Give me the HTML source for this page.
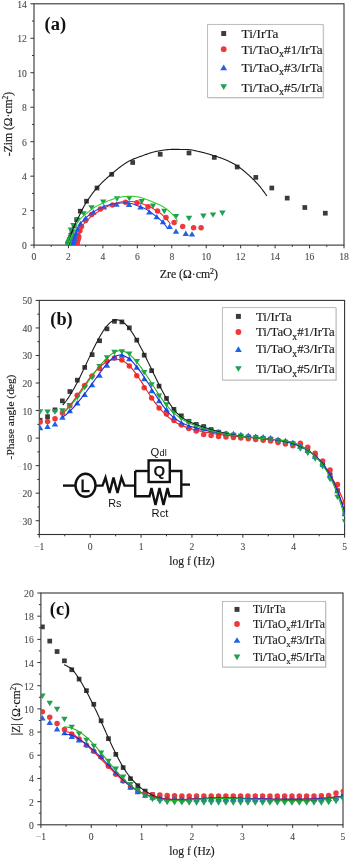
<!DOCTYPE html>
<html><head><meta charset="utf-8"><title>EIS plots</title><style>html,body{margin:0;padding:0;background:#fff;}svg{display:block;}</style></head><body>
<svg width="350" height="859" viewBox="0 0 350 859">
<defs><clipPath id="ca"><rect x="34.0" y="3.8" width="310.0" height="241.29999999999998"/></clipPath><clipPath id="cb"><rect x="39.3" y="300.4" width="305.3" height="234.10000000000002"/></clipPath><clipPath id="cc"><rect x="40.9" y="593.0" width="302.1" height="231.79999999999995"/></clipPath></defs>
<rect width="350" height="859" fill="#ffffff"/>
<rect x="34.00" y="3.80" width="310.00" height="241.30" fill="none" stroke="#333333" stroke-width="1.1"/>
<line x1="34.00" y1="245.10" x2="34.00" y2="248.30" stroke="#333333" stroke-width="1"/>
<line x1="68.44" y1="245.10" x2="68.44" y2="248.30" stroke="#333333" stroke-width="1"/>
<line x1="102.89" y1="245.10" x2="102.89" y2="248.30" stroke="#333333" stroke-width="1"/>
<line x1="137.33" y1="245.10" x2="137.33" y2="248.30" stroke="#333333" stroke-width="1"/>
<line x1="171.78" y1="245.10" x2="171.78" y2="248.30" stroke="#333333" stroke-width="1"/>
<line x1="206.22" y1="245.10" x2="206.22" y2="248.30" stroke="#333333" stroke-width="1"/>
<line x1="240.67" y1="245.10" x2="240.67" y2="248.30" stroke="#333333" stroke-width="1"/>
<line x1="275.11" y1="245.10" x2="275.11" y2="248.30" stroke="#333333" stroke-width="1"/>
<line x1="309.56" y1="245.10" x2="309.56" y2="248.30" stroke="#333333" stroke-width="1"/>
<line x1="344.00" y1="245.10" x2="344.00" y2="248.30" stroke="#333333" stroke-width="1"/>
<line x1="51.22" y1="245.10" x2="51.22" y2="246.90" stroke="#333333" stroke-width="1"/>
<line x1="85.67" y1="245.10" x2="85.67" y2="246.90" stroke="#333333" stroke-width="1"/>
<line x1="120.11" y1="245.10" x2="120.11" y2="246.90" stroke="#333333" stroke-width="1"/>
<line x1="154.56" y1="245.10" x2="154.56" y2="246.90" stroke="#333333" stroke-width="1"/>
<line x1="189.00" y1="245.10" x2="189.00" y2="246.90" stroke="#333333" stroke-width="1"/>
<line x1="223.44" y1="245.10" x2="223.44" y2="246.90" stroke="#333333" stroke-width="1"/>
<line x1="257.89" y1="245.10" x2="257.89" y2="246.90" stroke="#333333" stroke-width="1"/>
<line x1="292.33" y1="245.10" x2="292.33" y2="246.90" stroke="#333333" stroke-width="1"/>
<line x1="326.78" y1="245.10" x2="326.78" y2="246.90" stroke="#333333" stroke-width="1"/>
<line x1="30.40" y1="245.10" x2="34.00" y2="245.10" stroke="#333333" stroke-width="1"/>
<line x1="30.40" y1="210.63" x2="34.00" y2="210.63" stroke="#333333" stroke-width="1"/>
<line x1="30.40" y1="176.16" x2="34.00" y2="176.16" stroke="#333333" stroke-width="1"/>
<line x1="30.40" y1="141.69" x2="34.00" y2="141.69" stroke="#333333" stroke-width="1"/>
<line x1="30.40" y1="107.21" x2="34.00" y2="107.21" stroke="#333333" stroke-width="1"/>
<line x1="30.40" y1="72.74" x2="34.00" y2="72.74" stroke="#333333" stroke-width="1"/>
<line x1="30.40" y1="38.27" x2="34.00" y2="38.27" stroke="#333333" stroke-width="1"/>
<line x1="30.40" y1="3.80" x2="34.00" y2="3.80" stroke="#333333" stroke-width="1"/>
<line x1="32.00" y1="227.86" x2="34.00" y2="227.86" stroke="#333333" stroke-width="1"/>
<line x1="32.00" y1="193.39" x2="34.00" y2="193.39" stroke="#333333" stroke-width="1"/>
<line x1="32.00" y1="158.92" x2="34.00" y2="158.92" stroke="#333333" stroke-width="1"/>
<line x1="32.00" y1="124.45" x2="34.00" y2="124.45" stroke="#333333" stroke-width="1"/>
<line x1="32.00" y1="89.98" x2="34.00" y2="89.98" stroke="#333333" stroke-width="1"/>
<line x1="32.00" y1="55.51" x2="34.00" y2="55.51" stroke="#333333" stroke-width="1"/>
<line x1="32.00" y1="21.04" x2="34.00" y2="21.04" stroke="#333333" stroke-width="1"/>
<text x="34.00" y="260.10" text-anchor="middle" font-family="'Liberation Serif','Times New Roman',serif" font-size="9.6" fill="#4a4a4a" stroke="#4a4a4a" stroke-width="0.1">0</text>
<text x="68.44" y="260.10" text-anchor="middle" font-family="'Liberation Serif','Times New Roman',serif" font-size="9.6" fill="#4a4a4a" stroke="#4a4a4a" stroke-width="0.1">2</text>
<text x="102.89" y="260.10" text-anchor="middle" font-family="'Liberation Serif','Times New Roman',serif" font-size="9.6" fill="#4a4a4a" stroke="#4a4a4a" stroke-width="0.1">4</text>
<text x="137.33" y="260.10" text-anchor="middle" font-family="'Liberation Serif','Times New Roman',serif" font-size="9.6" fill="#4a4a4a" stroke="#4a4a4a" stroke-width="0.1">6</text>
<text x="171.78" y="260.10" text-anchor="middle" font-family="'Liberation Serif','Times New Roman',serif" font-size="9.6" fill="#4a4a4a" stroke="#4a4a4a" stroke-width="0.1">8</text>
<text x="206.22" y="260.10" text-anchor="middle" font-family="'Liberation Serif','Times New Roman',serif" font-size="9.6" fill="#4a4a4a" stroke="#4a4a4a" stroke-width="0.1">10</text>
<text x="240.67" y="260.10" text-anchor="middle" font-family="'Liberation Serif','Times New Roman',serif" font-size="9.6" fill="#4a4a4a" stroke="#4a4a4a" stroke-width="0.1">12</text>
<text x="275.11" y="260.10" text-anchor="middle" font-family="'Liberation Serif','Times New Roman',serif" font-size="9.6" fill="#4a4a4a" stroke="#4a4a4a" stroke-width="0.1">14</text>
<text x="309.56" y="260.10" text-anchor="middle" font-family="'Liberation Serif','Times New Roman',serif" font-size="9.6" fill="#4a4a4a" stroke="#4a4a4a" stroke-width="0.1">16</text>
<text x="344.00" y="260.10" text-anchor="middle" font-family="'Liberation Serif','Times New Roman',serif" font-size="9.6" fill="#4a4a4a" stroke="#4a4a4a" stroke-width="0.1">18</text>
<text x="26.80" y="249.10" text-anchor="end" font-family="'Liberation Serif','Times New Roman',serif" font-size="9.6" fill="#4a4a4a" stroke="#4a4a4a" stroke-width="0.1">0</text>
<text x="26.80" y="214.63" text-anchor="end" font-family="'Liberation Serif','Times New Roman',serif" font-size="9.6" fill="#4a4a4a" stroke="#4a4a4a" stroke-width="0.1">2</text>
<text x="26.80" y="180.16" text-anchor="end" font-family="'Liberation Serif','Times New Roman',serif" font-size="9.6" fill="#4a4a4a" stroke="#4a4a4a" stroke-width="0.1">4</text>
<text x="26.80" y="145.69" text-anchor="end" font-family="'Liberation Serif','Times New Roman',serif" font-size="9.6" fill="#4a4a4a" stroke="#4a4a4a" stroke-width="0.1">6</text>
<text x="26.80" y="111.21" text-anchor="end" font-family="'Liberation Serif','Times New Roman',serif" font-size="9.6" fill="#4a4a4a" stroke="#4a4a4a" stroke-width="0.1">8</text>
<text x="26.80" y="76.74" text-anchor="end" font-family="'Liberation Serif','Times New Roman',serif" font-size="9.6" fill="#4a4a4a" stroke="#4a4a4a" stroke-width="0.1">10</text>
<text x="26.80" y="42.27" text-anchor="end" font-family="'Liberation Serif','Times New Roman',serif" font-size="9.6" fill="#4a4a4a" stroke="#4a4a4a" stroke-width="0.1">12</text>
<text x="26.80" y="7.80" text-anchor="end" font-family="'Liberation Serif','Times New Roman',serif" font-size="9.6" fill="#4a4a4a" stroke="#4a4a4a" stroke-width="0.1">14</text>
<rect x="39.30" y="300.40" width="305.30" height="234.10" fill="none" stroke="#333333" stroke-width="1.1"/>
<line x1="39.30" y1="534.50" x2="39.30" y2="537.70" stroke="#333333" stroke-width="1"/>
<line x1="90.18" y1="534.50" x2="90.18" y2="537.70" stroke="#333333" stroke-width="1"/>
<line x1="141.07" y1="534.50" x2="141.07" y2="537.70" stroke="#333333" stroke-width="1"/>
<line x1="191.95" y1="534.50" x2="191.95" y2="537.70" stroke="#333333" stroke-width="1"/>
<line x1="242.83" y1="534.50" x2="242.83" y2="537.70" stroke="#333333" stroke-width="1"/>
<line x1="293.72" y1="534.50" x2="293.72" y2="537.70" stroke="#333333" stroke-width="1"/>
<line x1="344.60" y1="534.50" x2="344.60" y2="537.70" stroke="#333333" stroke-width="1"/>
<line x1="64.74" y1="534.50" x2="64.74" y2="536.30" stroke="#333333" stroke-width="1"/>
<line x1="115.62" y1="534.50" x2="115.62" y2="536.30" stroke="#333333" stroke-width="1"/>
<line x1="166.51" y1="534.50" x2="166.51" y2="536.30" stroke="#333333" stroke-width="1"/>
<line x1="217.39" y1="534.50" x2="217.39" y2="536.30" stroke="#333333" stroke-width="1"/>
<line x1="268.28" y1="534.50" x2="268.28" y2="536.30" stroke="#333333" stroke-width="1"/>
<line x1="319.16" y1="534.50" x2="319.16" y2="536.30" stroke="#333333" stroke-width="1"/>
<line x1="35.70" y1="520.73" x2="39.30" y2="520.73" stroke="#333333" stroke-width="1"/>
<line x1="35.70" y1="493.19" x2="39.30" y2="493.19" stroke="#333333" stroke-width="1"/>
<line x1="35.70" y1="465.65" x2="39.30" y2="465.65" stroke="#333333" stroke-width="1"/>
<line x1="35.70" y1="438.11" x2="39.30" y2="438.11" stroke="#333333" stroke-width="1"/>
<line x1="35.70" y1="410.56" x2="39.30" y2="410.56" stroke="#333333" stroke-width="1"/>
<line x1="35.70" y1="383.02" x2="39.30" y2="383.02" stroke="#333333" stroke-width="1"/>
<line x1="35.70" y1="355.48" x2="39.30" y2="355.48" stroke="#333333" stroke-width="1"/>
<line x1="35.70" y1="327.94" x2="39.30" y2="327.94" stroke="#333333" stroke-width="1"/>
<line x1="35.70" y1="300.40" x2="39.30" y2="300.40" stroke="#333333" stroke-width="1"/>
<line x1="37.30" y1="534.50" x2="39.30" y2="534.50" stroke="#333333" stroke-width="1"/>
<line x1="37.30" y1="506.96" x2="39.30" y2="506.96" stroke="#333333" stroke-width="1"/>
<line x1="37.30" y1="479.42" x2="39.30" y2="479.42" stroke="#333333" stroke-width="1"/>
<line x1="37.30" y1="451.88" x2="39.30" y2="451.88" stroke="#333333" stroke-width="1"/>
<line x1="37.30" y1="424.34" x2="39.30" y2="424.34" stroke="#333333" stroke-width="1"/>
<line x1="37.30" y1="396.79" x2="39.30" y2="396.79" stroke="#333333" stroke-width="1"/>
<line x1="37.30" y1="369.25" x2="39.30" y2="369.25" stroke="#333333" stroke-width="1"/>
<line x1="37.30" y1="341.71" x2="39.30" y2="341.71" stroke="#333333" stroke-width="1"/>
<line x1="37.30" y1="314.17" x2="39.30" y2="314.17" stroke="#333333" stroke-width="1"/>
<text x="39.30" y="549.50" text-anchor="middle" font-family="'Liberation Serif','Times New Roman',serif" font-size="9.6" fill="#4a4a4a" stroke="#4a4a4a" stroke-width="0.1"><tspan fill="#8a8a8a">−</tspan>1</text>
<text x="90.18" y="549.50" text-anchor="middle" font-family="'Liberation Serif','Times New Roman',serif" font-size="9.6" fill="#4a4a4a" stroke="#4a4a4a" stroke-width="0.1">0</text>
<text x="141.07" y="549.50" text-anchor="middle" font-family="'Liberation Serif','Times New Roman',serif" font-size="9.6" fill="#4a4a4a" stroke="#4a4a4a" stroke-width="0.1">1</text>
<text x="191.95" y="549.50" text-anchor="middle" font-family="'Liberation Serif','Times New Roman',serif" font-size="9.6" fill="#4a4a4a" stroke="#4a4a4a" stroke-width="0.1">2</text>
<text x="242.83" y="549.50" text-anchor="middle" font-family="'Liberation Serif','Times New Roman',serif" font-size="9.6" fill="#4a4a4a" stroke="#4a4a4a" stroke-width="0.1">3</text>
<text x="293.72" y="549.50" text-anchor="middle" font-family="'Liberation Serif','Times New Roman',serif" font-size="9.6" fill="#4a4a4a" stroke="#4a4a4a" stroke-width="0.1">4</text>
<text x="344.60" y="549.50" text-anchor="middle" font-family="'Liberation Serif','Times New Roman',serif" font-size="9.6" fill="#4a4a4a" stroke="#4a4a4a" stroke-width="0.1">5</text>
<text x="32.10" y="524.73" text-anchor="end" font-family="'Liberation Serif','Times New Roman',serif" font-size="9.6" fill="#4a4a4a" stroke="#4a4a4a" stroke-width="0.1"><tspan fill="#d6d6d6" stroke="#d6d6d6">−</tspan>30</text>
<text x="32.10" y="497.19" text-anchor="end" font-family="'Liberation Serif','Times New Roman',serif" font-size="9.6" fill="#4a4a4a" stroke="#4a4a4a" stroke-width="0.1"><tspan fill="#d6d6d6" stroke="#d6d6d6">−</tspan>20</text>
<text x="32.10" y="469.65" text-anchor="end" font-family="'Liberation Serif','Times New Roman',serif" font-size="9.6" fill="#4a4a4a" stroke="#4a4a4a" stroke-width="0.1"><tspan fill="#d6d6d6" stroke="#d6d6d6">−</tspan>10</text>
<text x="32.10" y="442.11" text-anchor="end" font-family="'Liberation Serif','Times New Roman',serif" font-size="9.6" fill="#4a4a4a" stroke="#4a4a4a" stroke-width="0.1">0</text>
<text x="32.10" y="414.56" text-anchor="end" font-family="'Liberation Serif','Times New Roman',serif" font-size="9.6" fill="#4a4a4a" stroke="#4a4a4a" stroke-width="0.1">10</text>
<text x="32.10" y="387.02" text-anchor="end" font-family="'Liberation Serif','Times New Roman',serif" font-size="9.6" fill="#4a4a4a" stroke="#4a4a4a" stroke-width="0.1">20</text>
<text x="32.10" y="359.48" text-anchor="end" font-family="'Liberation Serif','Times New Roman',serif" font-size="9.6" fill="#4a4a4a" stroke="#4a4a4a" stroke-width="0.1">30</text>
<text x="32.10" y="331.94" text-anchor="end" font-family="'Liberation Serif','Times New Roman',serif" font-size="9.6" fill="#4a4a4a" stroke="#4a4a4a" stroke-width="0.1">40</text>
<text x="32.10" y="304.40" text-anchor="end" font-family="'Liberation Serif','Times New Roman',serif" font-size="9.6" fill="#4a4a4a" stroke="#4a4a4a" stroke-width="0.1">50</text>
<rect x="40.90" y="593.00" width="302.10" height="231.80" fill="none" stroke="#333333" stroke-width="1.1"/>
<line x1="40.90" y1="824.80" x2="40.90" y2="828.00" stroke="#333333" stroke-width="1"/>
<line x1="91.25" y1="824.80" x2="91.25" y2="828.00" stroke="#333333" stroke-width="1"/>
<line x1="141.60" y1="824.80" x2="141.60" y2="828.00" stroke="#333333" stroke-width="1"/>
<line x1="191.95" y1="824.80" x2="191.95" y2="828.00" stroke="#333333" stroke-width="1"/>
<line x1="242.30" y1="824.80" x2="242.30" y2="828.00" stroke="#333333" stroke-width="1"/>
<line x1="292.65" y1="824.80" x2="292.65" y2="828.00" stroke="#333333" stroke-width="1"/>
<line x1="343.00" y1="824.80" x2="343.00" y2="828.00" stroke="#333333" stroke-width="1"/>
<line x1="66.08" y1="824.80" x2="66.08" y2="826.60" stroke="#333333" stroke-width="1"/>
<line x1="116.43" y1="824.80" x2="116.43" y2="826.60" stroke="#333333" stroke-width="1"/>
<line x1="166.78" y1="824.80" x2="166.78" y2="826.60" stroke="#333333" stroke-width="1"/>
<line x1="217.13" y1="824.80" x2="217.13" y2="826.60" stroke="#333333" stroke-width="1"/>
<line x1="267.48" y1="824.80" x2="267.48" y2="826.60" stroke="#333333" stroke-width="1"/>
<line x1="317.82" y1="824.80" x2="317.82" y2="826.60" stroke="#333333" stroke-width="1"/>
<line x1="37.30" y1="824.80" x2="40.90" y2="824.80" stroke="#333333" stroke-width="1"/>
<line x1="37.30" y1="801.62" x2="40.90" y2="801.62" stroke="#333333" stroke-width="1"/>
<line x1="37.30" y1="778.44" x2="40.90" y2="778.44" stroke="#333333" stroke-width="1"/>
<line x1="37.30" y1="755.26" x2="40.90" y2="755.26" stroke="#333333" stroke-width="1"/>
<line x1="37.30" y1="732.08" x2="40.90" y2="732.08" stroke="#333333" stroke-width="1"/>
<line x1="37.30" y1="708.90" x2="40.90" y2="708.90" stroke="#333333" stroke-width="1"/>
<line x1="37.30" y1="685.72" x2="40.90" y2="685.72" stroke="#333333" stroke-width="1"/>
<line x1="37.30" y1="662.54" x2="40.90" y2="662.54" stroke="#333333" stroke-width="1"/>
<line x1="37.30" y1="639.36" x2="40.90" y2="639.36" stroke="#333333" stroke-width="1"/>
<line x1="37.30" y1="616.18" x2="40.90" y2="616.18" stroke="#333333" stroke-width="1"/>
<line x1="37.30" y1="593.00" x2="40.90" y2="593.00" stroke="#333333" stroke-width="1"/>
<line x1="38.90" y1="813.21" x2="40.90" y2="813.21" stroke="#333333" stroke-width="1"/>
<line x1="38.90" y1="790.03" x2="40.90" y2="790.03" stroke="#333333" stroke-width="1"/>
<line x1="38.90" y1="766.85" x2="40.90" y2="766.85" stroke="#333333" stroke-width="1"/>
<line x1="38.90" y1="743.67" x2="40.90" y2="743.67" stroke="#333333" stroke-width="1"/>
<line x1="38.90" y1="720.49" x2="40.90" y2="720.49" stroke="#333333" stroke-width="1"/>
<line x1="38.90" y1="697.31" x2="40.90" y2="697.31" stroke="#333333" stroke-width="1"/>
<line x1="38.90" y1="674.13" x2="40.90" y2="674.13" stroke="#333333" stroke-width="1"/>
<line x1="38.90" y1="650.95" x2="40.90" y2="650.95" stroke="#333333" stroke-width="1"/>
<line x1="38.90" y1="627.77" x2="40.90" y2="627.77" stroke="#333333" stroke-width="1"/>
<line x1="38.90" y1="604.59" x2="40.90" y2="604.59" stroke="#333333" stroke-width="1"/>
<text x="40.90" y="839.80" text-anchor="middle" font-family="'Liberation Serif','Times New Roman',serif" font-size="9.6" fill="#4a4a4a" stroke="#4a4a4a" stroke-width="0.1"><tspan fill="#8a8a8a">−</tspan>1</text>
<text x="91.25" y="839.80" text-anchor="middle" font-family="'Liberation Serif','Times New Roman',serif" font-size="9.6" fill="#4a4a4a" stroke="#4a4a4a" stroke-width="0.1">0</text>
<text x="141.60" y="839.80" text-anchor="middle" font-family="'Liberation Serif','Times New Roman',serif" font-size="9.6" fill="#4a4a4a" stroke="#4a4a4a" stroke-width="0.1">1</text>
<text x="191.95" y="839.80" text-anchor="middle" font-family="'Liberation Serif','Times New Roman',serif" font-size="9.6" fill="#4a4a4a" stroke="#4a4a4a" stroke-width="0.1">2</text>
<text x="242.30" y="839.80" text-anchor="middle" font-family="'Liberation Serif','Times New Roman',serif" font-size="9.6" fill="#4a4a4a" stroke="#4a4a4a" stroke-width="0.1">3</text>
<text x="292.65" y="839.80" text-anchor="middle" font-family="'Liberation Serif','Times New Roman',serif" font-size="9.6" fill="#4a4a4a" stroke="#4a4a4a" stroke-width="0.1">4</text>
<text x="343.00" y="839.80" text-anchor="middle" font-family="'Liberation Serif','Times New Roman',serif" font-size="9.6" fill="#4a4a4a" stroke="#4a4a4a" stroke-width="0.1">5</text>
<text x="33.70" y="828.80" text-anchor="end" font-family="'Liberation Serif','Times New Roman',serif" font-size="9.6" fill="#4a4a4a" stroke="#4a4a4a" stroke-width="0.1">0</text>
<text x="33.70" y="805.62" text-anchor="end" font-family="'Liberation Serif','Times New Roman',serif" font-size="9.6" fill="#4a4a4a" stroke="#4a4a4a" stroke-width="0.1">2</text>
<text x="33.70" y="782.44" text-anchor="end" font-family="'Liberation Serif','Times New Roman',serif" font-size="9.6" fill="#4a4a4a" stroke="#4a4a4a" stroke-width="0.1">4</text>
<text x="33.70" y="759.26" text-anchor="end" font-family="'Liberation Serif','Times New Roman',serif" font-size="9.6" fill="#4a4a4a" stroke="#4a4a4a" stroke-width="0.1">6</text>
<text x="33.70" y="736.08" text-anchor="end" font-family="'Liberation Serif','Times New Roman',serif" font-size="9.6" fill="#4a4a4a" stroke="#4a4a4a" stroke-width="0.1">8</text>
<text x="33.70" y="712.90" text-anchor="end" font-family="'Liberation Serif','Times New Roman',serif" font-size="9.6" fill="#4a4a4a" stroke="#4a4a4a" stroke-width="0.1">10</text>
<text x="33.70" y="689.72" text-anchor="end" font-family="'Liberation Serif','Times New Roman',serif" font-size="9.6" fill="#4a4a4a" stroke="#4a4a4a" stroke-width="0.1">12</text>
<text x="33.70" y="666.54" text-anchor="end" font-family="'Liberation Serif','Times New Roman',serif" font-size="9.6" fill="#4a4a4a" stroke="#4a4a4a" stroke-width="0.1">14</text>
<text x="33.70" y="643.36" text-anchor="end" font-family="'Liberation Serif','Times New Roman',serif" font-size="9.6" fill="#4a4a4a" stroke="#4a4a4a" stroke-width="0.1">16</text>
<text x="33.70" y="620.18" text-anchor="end" font-family="'Liberation Serif','Times New Roman',serif" font-size="9.6" fill="#4a4a4a" stroke="#4a4a4a" stroke-width="0.1">18</text>
<text x="33.70" y="597.00" text-anchor="end" font-family="'Liberation Serif','Times New Roman',serif" font-size="9.6" fill="#4a4a4a" stroke="#4a4a4a" stroke-width="0.1">20</text>
<g clip-path="url(#ca)">
<rect x="322.95" y="210.85" width="4.70" height="4.70" fill="#3b3b3b"/>
<rect x="302.45" y="205.15" width="4.70" height="4.70" fill="#3b3b3b"/>
<rect x="284.85" y="195.75" width="4.70" height="4.70" fill="#3b3b3b"/>
<rect x="269.45" y="185.65" width="4.70" height="4.70" fill="#3b3b3b"/>
<rect x="253.45" y="175.05" width="4.70" height="4.70" fill="#3b3b3b"/>
<rect x="234.85" y="164.65" width="4.70" height="4.70" fill="#3b3b3b"/>
<rect x="211.95" y="155.05" width="4.70" height="4.70" fill="#3b3b3b"/>
<rect x="186.65" y="150.65" width="4.70" height="4.70" fill="#3b3b3b"/>
<rect x="157.85" y="151.95" width="4.70" height="4.70" fill="#3b3b3b"/>
<rect x="130.35" y="160.15" width="4.70" height="4.70" fill="#3b3b3b"/>
<rect x="109.35" y="171.95" width="4.70" height="4.70" fill="#3b3b3b"/>
<rect x="94.65" y="185.65" width="4.70" height="4.70" fill="#3b3b3b"/>
<rect x="84.15" y="198.85" width="4.70" height="4.70" fill="#3b3b3b"/>
<rect x="77.95" y="208.85" width="4.70" height="4.70" fill="#3b3b3b"/>
<rect x="74.35" y="217.25" width="4.70" height="4.70" fill="#3b3b3b"/>
<rect x="71.85" y="223.45" width="4.70" height="4.70" fill="#3b3b3b"/>
<rect x="69.64" y="229.36" width="4.70" height="4.70" fill="#3b3b3b"/>
<rect x="68.61" y="232.97" width="4.70" height="4.70" fill="#3b3b3b"/>
<rect x="67.95" y="235.73" width="4.70" height="4.70" fill="#3b3b3b"/>
<rect x="67.57" y="237.34" width="4.70" height="4.70" fill="#3b3b3b"/>
<rect x="67.26" y="238.69" width="4.70" height="4.70" fill="#3b3b3b"/>
<rect x="67.09" y="239.44" width="4.70" height="4.70" fill="#3b3b3b"/>
<rect x="66.98" y="239.96" width="4.70" height="4.70" fill="#3b3b3b"/>
<rect x="66.82" y="240.69" width="4.70" height="4.70" fill="#3b3b3b"/>
<rect x="66.69" y="241.32" width="4.70" height="4.70" fill="#3b3b3b"/>
<rect x="66.59" y="241.76" width="4.70" height="4.70" fill="#3b3b3b"/>
<rect x="66.54" y="242.02" width="4.70" height="4.70" fill="#3b3b3b"/>
<rect x="66.49" y="242.24" width="4.70" height="4.70" fill="#3b3b3b"/>
<rect x="66.45" y="242.44" width="4.70" height="4.70" fill="#3b3b3b"/>
<rect x="66.45" y="242.62" width="4.70" height="4.70" fill="#3b3b3b"/>
<rect x="66.45" y="242.79" width="4.70" height="4.70" fill="#3b3b3b"/>
<rect x="66.45" y="242.98" width="4.70" height="4.70" fill="#3b3b3b"/>
<rect x="66.45" y="243.35" width="4.70" height="4.70" fill="#3b3b3b"/>
<rect x="66.45" y="243.69" width="4.70" height="4.70" fill="#3b3b3b"/>
<rect x="66.45" y="244.10" width="4.70" height="4.70" fill="#3b3b3b"/>
<rect x="66.45" y="244.68" width="4.70" height="4.70" fill="#3b3b3b"/>
<rect x="66.45" y="245.69" width="4.70" height="4.70" fill="#3b3b3b"/>
<rect x="66.45" y="247.08" width="4.70" height="4.70" fill="#3b3b3b"/>
<rect x="66.45" y="248.93" width="4.70" height="4.70" fill="#3b3b3b"/>
<rect x="66.45" y="251.56" width="4.70" height="4.70" fill="#3b3b3b"/>
<rect x="66.45" y="255.80" width="4.70" height="4.70" fill="#3b3b3b"/>
<rect x="66.45" y="262.54" width="4.70" height="4.70" fill="#3b3b3b"/>
<circle cx="201.10" cy="227.70" r="2.75" fill="#ee3a3a"/>
<circle cx="193.60" cy="227.70" r="2.75" fill="#ee3a3a"/>
<circle cx="182.70" cy="226.50" r="2.75" fill="#ee3a3a"/>
<circle cx="174.10" cy="222.50" r="2.75" fill="#ee3a3a"/>
<circle cx="166.00" cy="217.40" r="2.75" fill="#ee3a3a"/>
<circle cx="157.50" cy="211.00" r="2.75" fill="#ee3a3a"/>
<circle cx="148.00" cy="206.70" r="2.75" fill="#ee3a3a"/>
<circle cx="137.00" cy="202.70" r="2.75" fill="#ee3a3a"/>
<circle cx="125.60" cy="202.20" r="2.75" fill="#ee3a3a"/>
<circle cx="112.50" cy="205.00" r="2.75" fill="#ee3a3a"/>
<circle cx="100.40" cy="209.10" r="2.75" fill="#ee3a3a"/>
<circle cx="91.60" cy="214.60" r="2.75" fill="#ee3a3a"/>
<circle cx="85.60" cy="220.60" r="2.75" fill="#ee3a3a"/>
<circle cx="81.50" cy="226.40" r="2.75" fill="#ee3a3a"/>
<circle cx="79.90" cy="230.70" r="2.75" fill="#ee3a3a"/>
<circle cx="77.70" cy="235.40" r="2.75" fill="#ee3a3a"/>
<circle cx="78.84" cy="236.72" r="2.75" fill="#ee3a3a"/>
<circle cx="78.31" cy="238.47" r="2.75" fill="#ee3a3a"/>
<circle cx="77.75" cy="240.31" r="2.75" fill="#ee3a3a"/>
<circle cx="77.39" cy="241.50" r="2.75" fill="#ee3a3a"/>
<circle cx="77.09" cy="242.50" r="2.75" fill="#ee3a3a"/>
<circle cx="76.88" cy="243.19" r="2.75" fill="#ee3a3a"/>
<circle cx="76.60" cy="244.12" r="2.75" fill="#ee3a3a"/>
<circle cx="76.52" cy="244.40" r="2.75" fill="#ee3a3a"/>
<circle cx="76.44" cy="244.68" r="2.75" fill="#ee3a3a"/>
<circle cx="76.40" cy="244.80" r="2.75" fill="#ee3a3a"/>
<circle cx="76.40" cy="244.94" r="2.75" fill="#ee3a3a"/>
<circle cx="76.40" cy="245.07" r="2.75" fill="#ee3a3a"/>
<circle cx="76.40" cy="245.29" r="2.75" fill="#ee3a3a"/>
<circle cx="76.40" cy="245.50" r="2.75" fill="#ee3a3a"/>
<circle cx="76.40" cy="245.69" r="2.75" fill="#ee3a3a"/>
<circle cx="76.40" cy="245.91" r="2.75" fill="#ee3a3a"/>
<circle cx="76.40" cy="246.32" r="2.75" fill="#ee3a3a"/>
<circle cx="76.40" cy="246.71" r="2.75" fill="#ee3a3a"/>
<circle cx="76.40" cy="247.17" r="2.75" fill="#ee3a3a"/>
<circle cx="76.40" cy="246.46" r="2.75" fill="#ee3a3a"/>
<circle cx="76.40" cy="247.61" r="2.75" fill="#ee3a3a"/>
<circle cx="76.40" cy="249.19" r="2.75" fill="#ee3a3a"/>
<circle cx="76.40" cy="251.32" r="2.75" fill="#ee3a3a"/>
<circle cx="76.40" cy="253.87" r="2.75" fill="#ee3a3a"/>
<circle cx="76.40" cy="258.79" r="2.75" fill="#ee3a3a"/>
<circle cx="76.40" cy="264.84" r="2.75" fill="#ee3a3a"/>
<path d="M192.00 231.20L195.20 236.60L188.80 236.60Z" fill="#1f62e8"/>
<path d="M185.80 230.50L189.00 235.90L182.60 235.90Z" fill="#1f62e8"/>
<path d="M176.00 228.40L179.20 233.80L172.80 233.80Z" fill="#1f62e8"/>
<path d="M169.60 223.50L172.80 228.90L166.40 228.90Z" fill="#1f62e8"/>
<path d="M163.00 218.90L166.20 224.30L159.80 224.30Z" fill="#1f62e8"/>
<path d="M156.70 213.90L159.90 219.30L153.50 219.30Z" fill="#1f62e8"/>
<path d="M149.30 209.20L152.50 214.60L146.10 214.60Z" fill="#1f62e8"/>
<path d="M140.50 204.00L143.70 209.40L137.30 209.40Z" fill="#1f62e8"/>
<path d="M129.00 201.60L132.20 207.00L125.80 207.00Z" fill="#1f62e8"/>
<path d="M116.50 201.30L119.70 206.70L113.30 206.70Z" fill="#1f62e8"/>
<path d="M104.00 204.10L107.20 209.50L100.80 209.50Z" fill="#1f62e8"/>
<path d="M93.50 209.30L96.70 214.70L90.30 214.70Z" fill="#1f62e8"/>
<path d="M85.70 215.31L88.90 220.71L82.50 220.71Z" fill="#1f62e8"/>
<path d="M80.50 220.82L83.70 226.22L77.30 226.22Z" fill="#1f62e8"/>
<path d="M77.67 226.13L80.87 231.53L74.47 231.53Z" fill="#1f62e8"/>
<path d="M76.09 230.20L79.29 235.60L72.89 235.60Z" fill="#1f62e8"/>
<path d="M75.10 233.04L78.30 238.44L71.90 238.44Z" fill="#1f62e8"/>
<path d="M74.33 235.30L77.53 240.70L71.13 240.70Z" fill="#1f62e8"/>
<path d="M73.69 237.20L76.89 242.60L70.49 242.60Z" fill="#1f62e8"/>
<path d="M73.21 238.66L76.41 244.06L70.01 244.06Z" fill="#1f62e8"/>
<path d="M72.96 239.42L76.16 244.82L69.76 244.82Z" fill="#1f62e8"/>
<path d="M72.79 239.94L75.99 245.34L69.59 245.34Z" fill="#1f62e8"/>
<path d="M72.79 239.93L75.99 245.33L69.59 245.33Z" fill="#1f62e8"/>
<path d="M72.63 240.42L75.83 245.82L69.43 245.82Z" fill="#1f62e8"/>
<path d="M72.51 240.81L75.71 246.21L69.31 246.21Z" fill="#1f62e8"/>
<path d="M72.40 241.15L75.60 246.55L69.20 246.55Z" fill="#1f62e8"/>
<path d="M72.36 241.28L75.56 246.68L69.16 246.68Z" fill="#1f62e8"/>
<path d="M72.28 241.52L75.48 246.92L69.08 246.92Z" fill="#1f62e8"/>
<path d="M72.22 241.72L75.42 247.12L69.02 247.12Z" fill="#1f62e8"/>
<path d="M72.16 241.90L75.36 247.30L68.96 247.30Z" fill="#1f62e8"/>
<path d="M72.11 242.08L75.31 247.48L68.91 247.48Z" fill="#1f62e8"/>
<path d="M72.10 242.27L75.30 247.67L68.90 247.67Z" fill="#1f62e8"/>
<path d="M72.10 242.64L75.30 248.04L68.90 248.04Z" fill="#1f62e8"/>
<path d="M72.10 242.99L75.30 248.39L68.90 248.39Z" fill="#1f62e8"/>
<path d="M72.10 243.40L75.30 248.80L68.90 248.80Z" fill="#1f62e8"/>
<path d="M72.10 244.36L75.30 249.76L68.90 249.76Z" fill="#1f62e8"/>
<path d="M72.10 245.39L75.30 250.79L68.90 250.79Z" fill="#1f62e8"/>
<path d="M72.10 246.81L75.30 252.21L68.90 252.21Z" fill="#1f62e8"/>
<path d="M72.10 248.72L75.30 254.12L68.90 254.12Z" fill="#1f62e8"/>
<path d="M72.10 251.42L75.30 256.82L68.90 256.82Z" fill="#1f62e8"/>
<path d="M72.10 255.67L75.30 261.07L68.90 261.07Z" fill="#1f62e8"/>
<path d="M72.10 262.17L75.30 267.57L68.90 267.57Z" fill="#1f62e8"/>
<path d="M219.20 210.60L225.60 210.60L222.40 216.00Z" fill="#229e55"/>
<path d="M209.80 212.40L216.20 212.40L213.00 217.80Z" fill="#229e55"/>
<path d="M200.20 213.60L206.60 213.60L203.40 219.00Z" fill="#229e55"/>
<path d="M185.80 215.80L192.20 215.80L189.00 221.20Z" fill="#229e55"/>
<path d="M172.80 213.90L179.20 213.90L176.00 219.30Z" fill="#229e55"/>
<path d="M161.10 208.80L167.50 208.80L164.30 214.20Z" fill="#229e55"/>
<path d="M149.80 203.60L156.20 203.60L153.00 209.00Z" fill="#229e55"/>
<path d="M138.50 199.00L144.90 199.00L141.70 204.40Z" fill="#229e55"/>
<path d="M126.10 195.90L132.50 195.90L129.30 201.30Z" fill="#229e55"/>
<path d="M113.80 196.30L120.20 196.30L117.00 201.70Z" fill="#229e55"/>
<path d="M100.00 199.50L106.40 199.50L103.20 204.90Z" fill="#229e55"/>
<path d="M88.40 205.20L94.80 205.20L91.60 210.60Z" fill="#229e55"/>
<path d="M80.40 211.20L86.80 211.20L83.60 216.60Z" fill="#229e55"/>
<path d="M74.50 217.70L80.90 217.70L77.70 223.10Z" fill="#229e55"/>
<path d="M70.20 222.90L76.60 222.90L73.40 228.30Z" fill="#229e55"/>
<path d="M67.70 227.60L74.10 227.60L70.90 233.00Z" fill="#229e55"/>
<path d="M68.37 233.39L74.77 233.39L71.57 238.79Z" fill="#229e55"/>
<path d="M67.44 235.46L73.84 235.46L70.64 240.86Z" fill="#229e55"/>
<path d="M66.76 237.18L73.16 237.18L69.96 242.58Z" fill="#229e55"/>
<path d="M66.30 238.43L72.70 238.43L69.50 243.83Z" fill="#229e55"/>
<path d="M66.04 239.17L72.44 239.17L69.24 244.57Z" fill="#229e55"/>
<path d="M65.78 239.93L72.18 239.93L68.98 245.33Z" fill="#229e55"/>
<path d="M65.57 240.60L71.97 240.60L68.77 246.00Z" fill="#229e55"/>
<path d="M65.43 241.01L71.83 241.01L68.63 246.41Z" fill="#229e55"/>
<path d="M65.30 241.44L71.70 241.44L68.50 246.84Z" fill="#229e55"/>
<path d="M65.21 241.72L71.61 241.72L68.41 247.12Z" fill="#229e55"/>
<path d="M65.15 241.94L71.55 241.94L68.35 247.34Z" fill="#229e55"/>
<path d="M65.10 242.13L71.50 242.13L68.30 247.53Z" fill="#229e55"/>
<path d="M65.10 242.30L71.50 242.30L68.30 247.70Z" fill="#229e55"/>
<path d="M65.10 242.46L71.50 242.46L68.30 247.86Z" fill="#229e55"/>
<path d="M65.10 242.60L71.50 242.60L68.30 248.00Z" fill="#229e55"/>
<path d="M65.10 242.76L71.50 242.76L68.30 248.16Z" fill="#229e55"/>
<path d="M65.10 243.07L71.50 243.07L68.30 248.47Z" fill="#229e55"/>
<path d="M65.10 243.37L71.50 243.37L68.30 248.77Z" fill="#229e55"/>
<path d="M65.10 243.71L71.50 243.71L68.30 249.11Z" fill="#229e55"/>
<path d="M65.10 244.65L71.50 244.65L68.30 250.05Z" fill="#229e55"/>
<path d="M65.10 245.51L71.50 245.51L68.30 250.91Z" fill="#229e55"/>
<path d="M65.10 246.70L71.50 246.70L68.30 252.10Z" fill="#229e55"/>
<path d="M65.10 248.28L71.50 248.28L68.30 253.68Z" fill="#229e55"/>
<path d="M65.10 250.98L71.50 250.98L68.30 256.38Z" fill="#229e55"/>
<path d="M65.10 255.14L71.50 255.14L68.30 260.54Z" fill="#229e55"/>
<path d="M65.10 261.32L71.50 261.32L68.30 266.72Z" fill="#229e55"/>
<path d="M68.80 244.80L68.93 244.16L69.07 243.52L69.21 242.88L69.35 242.24L69.49 241.60L69.63 240.96L69.78 240.32L69.92 239.68L70.07 239.04L70.22 238.41L70.37 237.77L70.52 237.13L70.67 236.49L70.83 235.85L70.98 235.22L71.14 234.58L71.31 233.95L71.49 233.32L71.67 232.69L71.87 232.07L72.07 231.45L72.28 230.84L72.50 230.22L72.73 229.61L72.97 229.00L73.21 228.39L73.46 227.78L73.71 227.17L73.97 226.57L74.23 225.96L74.50 225.36L74.77 224.76L75.04 224.16L75.31 223.57L75.59 222.97L75.87 222.38L76.15 221.79L76.44 221.21L76.75 220.63L77.06 220.05L77.37 219.48L77.68 218.90L77.99 218.32L78.29 217.74L78.58 217.15L78.88 216.57L79.17 215.98L79.46 215.39L79.74 214.80L80.03 214.21L80.31 213.62L80.60 213.03L80.88 212.44L81.17 211.84L81.45 211.25L81.74 210.66L82.03 210.08L82.32 209.49L82.61 208.91L82.91 208.32L83.21 207.74L83.52 207.16L83.83 206.59L84.14 206.02L84.46 205.45L84.78 204.88L85.12 204.32L85.45 203.76L85.80 203.20L86.14 202.64L86.50 202.09L86.85 201.54L87.21 200.99L87.58 200.45L87.94 199.90L88.31 199.36L88.68 198.82L89.05 198.28L89.42 197.74L89.79 197.20L90.16 196.66L90.54 196.12L90.91 195.58L91.29 195.04L91.67 194.51L92.06 193.97L92.45 193.44L92.84 192.92L93.24 192.39L93.64 191.88L94.04 191.37L94.45 190.86L94.87 190.36L95.29 189.87L95.71 189.37L96.14 188.88L96.57 188.39L97.00 187.91L97.44 187.42L97.88 186.94L98.33 186.46L98.77 185.98L99.22 185.51L99.68 185.03L100.13 184.56L100.59 184.09L101.05 183.62L101.52 183.15L101.99 182.69L102.45 182.22L102.93 181.76L103.40 181.31L103.87 180.85L104.35 180.40L104.83 179.94L105.31 179.49L105.80 179.05L106.28 178.60L106.77 178.16L107.26 177.72L107.75 177.28L108.24 176.84L108.73 176.41L109.22 175.97L109.72 175.54L110.21 175.12L110.71 174.69L111.21 174.27L111.70 173.85L112.20 173.43L112.70 173.01L113.20 172.60L113.71 172.18L114.21 171.76L114.72 171.34L115.22 170.93L115.73 170.51L116.24 170.09L116.75 169.67L117.27 169.25L117.78 168.84L118.30 168.43L118.82 168.02L119.35 167.61L119.87 167.20L120.40 166.80L120.92 166.40L121.46 166.00L121.99 165.61L122.52 165.23L123.06 164.84L123.60 164.47L124.14 164.09L124.69 163.73L125.24 163.37L125.79 163.02L126.34 162.67L126.89 162.33L127.45 162.00L128.01 161.67L128.57 161.36L129.14 161.05L129.71 160.75L130.28 160.46L130.86 160.18L131.45 159.90L132.04 159.63L132.64 159.37L133.24 159.12L133.85 158.87L134.46 158.63L135.07 158.39L135.69 158.15L136.31 157.92L136.93 157.70L137.55 157.47L138.17 157.25L138.79 157.03L139.41 156.81L140.03 156.59L140.64 156.37L141.26 156.15L141.88 155.93L142.49 155.70L143.11 155.48L143.73 155.25L144.35 155.03L144.97 154.81L145.59 154.58L146.21 154.36L146.84 154.14L147.46 153.93L148.08 153.71L148.71 153.50L149.33 153.30L149.96 153.09L150.58 152.90L151.21 152.71L151.84 152.52L152.47 152.34L153.10 152.17L153.73 152.00L154.36 151.84L155.00 151.69L155.63 151.55L156.27 151.41L156.90 151.29L157.54 151.18L158.18 151.06L158.82 150.95L159.46 150.84L160.11 150.72L160.75 150.61L161.40 150.50L162.05 150.39L162.70 150.28L163.35 150.18L164.00 150.08L164.65 149.99L165.31 149.90L165.96 149.81L166.61 149.74L167.27 149.66L167.92 149.60L168.57 149.54L169.23 149.50L169.88 149.46L170.54 149.43L171.19 149.41L171.84 149.40L172.50 149.40L173.15 149.40L173.80 149.40L174.46 149.40L175.11 149.40L175.77 149.41L176.42 149.41L177.08 149.41L177.74 149.42L178.39 149.42L179.05 149.42L179.71 149.43L180.36 149.43L181.02 149.44L181.68 149.44L182.33 149.45L182.99 149.46L183.64 149.46L184.30 149.47L184.95 149.48L185.60 149.49L186.25 149.50L186.90 149.51L187.55 149.53L188.20 149.57L188.85 149.63L189.50 149.70L190.15 149.78L190.80 149.87L191.44 149.97L192.09 150.08L192.74 150.20L193.38 150.33L194.03 150.47L194.68 150.60L195.32 150.75L195.96 150.89L196.61 151.04L197.25 151.18L197.89 151.33L198.53 151.48L199.17 151.62L199.81 151.76L200.45 151.90L201.09 152.04L201.72 152.19L202.36 152.34L202.99 152.49L203.63 152.65L204.26 152.82L204.90 152.99L205.53 153.16L206.16 153.33L206.79 153.51L207.42 153.69L208.05 153.88L208.68 154.06L209.31 154.25L209.94 154.44L210.57 154.63L211.19 154.82L211.82 155.02L212.44 155.21L213.07 155.41L213.69 155.60L214.32 155.80L214.94 156.00L215.57 156.20L216.19 156.40L216.81 156.60L217.44 156.81L218.06 157.02L218.68 157.23L219.30 157.44L219.92 157.66L220.54 157.88L221.15 158.11L221.77 158.33L222.38 158.56L222.99 158.80L223.60 159.03L224.21 159.28L224.81 159.52L225.41 159.77L226.02 160.03L226.62 160.29L227.22 160.55L227.81 160.82L228.41 161.10L229.01 161.38L229.60 161.66L230.19 161.95L230.78 162.24L231.36 162.54L231.95 162.84L232.52 163.15L233.10 163.46L233.67 163.78L234.24 164.10L234.81 164.42L235.37 164.75L235.92 165.09L236.48 165.44L237.03 165.80L237.58 166.16L238.12 166.53L238.66 166.90L239.20 167.28L239.73 167.67L240.26 168.05L240.79 168.44L241.31 168.83L241.83 169.23L242.34 169.63L242.85 170.04L243.36 170.46L243.86 170.88L244.36 171.30L244.86 171.73L245.36 172.16L245.85 172.59L246.34 173.02L246.83 173.46L247.32 173.89L247.81 174.33L248.30 174.77L248.78 175.21L249.27 175.65L249.75 176.09L250.23 176.53L250.71 176.98L251.19 177.43L251.67 177.88L252.14 178.34L252.61 178.79L253.08 179.25L253.54 179.71L254.01 180.17L254.47 180.64L254.92 181.11L255.37 181.58L255.82 182.06L256.27 182.53L256.71 183.02L257.15 183.50L257.59 183.99L258.03 184.48L258.46 184.97L258.89 185.47L259.32 185.97L259.74 186.47L260.16 186.97L260.57 187.47L260.99 187.98L261.39 188.49L261.80 189.01L262.20 189.52L262.60 190.04L263.00 190.56L263.39 191.08L263.78 191.61L264.17 192.13L264.56 192.66L264.94 193.20L265.32 193.73L265.69 194.27L266.07 194.81L266.43 195.35L266.80 195.90" fill="none" stroke="#1a1a1a" stroke-width="1.1" stroke-linejoin="round"/>
<path d="M76.40 244.80L76.49 244.50L76.58 244.21L76.66 243.91L76.75 243.62L76.84 243.32L76.93 243.03L77.02 242.73L77.11 242.44L77.20 242.14L77.28 241.85L77.37 241.55L77.46 241.26L77.55 240.96L77.64 240.67L77.73 240.37L77.82 240.08L77.91 239.78L78.00 239.49L78.09 239.20L78.18 238.90L78.27 238.61L78.36 238.31L78.45 238.02L78.54 237.72L78.63 237.43L78.72 237.13L78.81 236.84L78.90 236.54L78.99 236.25L79.08 235.95L79.17 235.66L79.26 235.36L79.35 235.07L79.44 234.78L79.53 234.48L79.62 234.19L79.71 233.89L79.81 233.60L79.90 233.31L79.99 233.01L80.08 232.71L80.17 232.42L80.26 232.11L80.34 231.81L80.43 231.51L80.51 231.21L80.60 230.90L80.68 230.60L80.76 230.30L80.85 229.99L80.94 229.69L81.03 229.39L81.12 229.09L81.21 228.79L81.30 228.50L81.40 228.21L81.50 227.92L81.60 227.63L81.71 227.35L81.82 227.07L81.93 226.79L82.05 226.52L82.18 226.25L82.30 225.99L82.44 225.73L82.59 225.48L82.75 225.23L82.92 224.98L83.10 224.74L83.29 224.50L83.49 224.26L83.69 224.02L83.89 223.79L84.11 223.56L84.32 223.32L84.54 223.10L84.76 222.87L84.99 222.64L85.21 222.42L85.43 222.19L85.65 221.97L85.87 221.75L86.09 221.52L86.30 221.30L86.51 221.08L86.72 220.85L86.94 220.63L87.15 220.41L87.37 220.19L87.58 219.97L87.80 219.75L88.02 219.53L88.24 219.31L88.46 219.10L88.69 218.88L88.91 218.67L89.14 218.46L89.36 218.25L89.59 218.04L89.82 217.83L90.05 217.63L90.28 217.43L90.51 217.23L90.75 217.03L90.98 216.83L91.22 216.64L91.45 216.45L91.69 216.25L91.93 216.06L92.17 215.87L92.42 215.68L92.66 215.50L92.91 215.31L93.15 215.12L93.40 214.94L93.65 214.75L93.90 214.57L94.15 214.39L94.40 214.21L94.65 214.03L94.90 213.85L95.15 213.67L95.41 213.49L95.66 213.32L95.92 213.14L96.17 212.97L96.43 212.80L96.69 212.63L96.95 212.45L97.21 212.29L97.46 212.12L97.72 211.95L97.98 211.78L98.24 211.62L98.50 211.45L98.76 211.29L99.03 211.13L99.29 210.97L99.55 210.81L99.81 210.65L100.07 210.49L100.34 210.33L100.60 210.18L100.87 210.02L101.13 209.86L101.40 209.71L101.67 209.55L101.93 209.40L102.20 209.25L102.47 209.09L102.74 208.94L103.01 208.79L103.28 208.64L103.56 208.50L103.83 208.35L104.10 208.20L104.37 208.06L104.65 207.92L104.92 207.77L105.20 207.63L105.47 207.49L105.75 207.36L106.03 207.22L106.30 207.09L106.58 206.95L106.86 206.82L107.14 206.69L107.42 206.56L107.69 206.44L107.97 206.31L108.25 206.19L108.54 206.06L108.82 205.94L109.10 205.82L109.38 205.70L109.67 205.57L109.95 205.45L110.24 205.33L110.52 205.21L110.81 205.10L111.10 204.98L111.38 204.86L111.67 204.75L111.96 204.64L112.25 204.53L112.54 204.42L112.83 204.31L113.12 204.20L113.41 204.10L113.70 204.00L114.00 203.90L114.29 203.80L114.58 203.71L114.87 203.62L115.17 203.53L115.46 203.45L115.76 203.37L116.05 203.29L116.35 203.21L116.64 203.13L116.94 203.05L117.24 202.96L117.54 202.88L117.83 202.80L118.13 202.72L118.43 202.63L118.73 202.55L119.04 202.47L119.34 202.39L119.64 202.31L119.94 202.24L120.24 202.16L120.55 202.09L120.85 202.02L121.15 201.96L121.46 201.89L121.76 201.83L122.07 201.78L122.37 201.73L122.68 201.68L122.98 201.64L123.29 201.60L123.59 201.57L123.90 201.54L124.20 201.52L124.51 201.51L124.81 201.50L125.12 201.50L125.42 201.50L125.73 201.50L126.04 201.50L126.34 201.50L126.65 201.50L126.96 201.50L127.27 201.50L127.58 201.50L127.89 201.50L128.20 201.50L128.51 201.50L128.82 201.50L129.13 201.50L129.43 201.50L129.74 201.50L130.05 201.50L130.36 201.50L130.66 201.50L130.97 201.50L131.28 201.50L131.58 201.51L131.89 201.53L132.19 201.56L132.50 201.59L132.81 201.63L133.11 201.67L133.42 201.72L133.72 201.77L134.02 201.82L134.33 201.88L134.63 201.95L134.94 202.01L135.24 202.08L135.54 202.15L135.85 202.22L136.15 202.29L136.45 202.36L136.75 202.43L137.05 202.51L137.35 202.58L137.65 202.64L137.95 202.71L138.25 202.78L138.55 202.85L138.85 202.92L139.15 202.99L139.45 203.06L139.75 203.14L140.05 203.21L140.35 203.29L140.65 203.37L140.95 203.45L141.24 203.54L141.54 203.62L141.84 203.71L142.14 203.79L142.44 203.88L142.73 203.97L143.03 204.07L143.33 204.16L143.62 204.25L143.92 204.35L144.21 204.45L144.50 204.55L144.80 204.65L145.09 204.75L145.38 204.85L145.67 204.96L145.96 205.06L146.25 205.17L146.53 205.28L146.82 205.39L147.10 205.50L147.39 205.61L147.67 205.72L147.95 205.84L148.23 205.96L148.51 206.08L148.79 206.20L149.06 206.33L149.34 206.46L149.61 206.60L149.88 206.74L150.15 206.89L150.43 207.04L150.69 207.19L150.96 207.34L151.23 207.49L151.50 207.65L151.76 207.81L152.03 207.97L152.30 208.13L152.56 208.29L152.82 208.46L153.09 208.62L153.35 208.78L153.62 208.95L153.88 209.11L154.14 209.28L154.41 209.44L154.67 209.60L154.93 209.76L155.20 209.92L155.46 210.08L155.73 210.24L155.99 210.39L156.26 210.55L156.52 210.71L156.79 210.87L157.05 211.03L157.31 211.20L157.58 211.36L157.84 211.52L158.10 211.69L158.36 211.86L158.62 212.03L158.87 212.20L159.12 212.37L159.38 212.55L159.63 212.72L159.87 212.90L160.12 213.09L160.36 213.27L160.60 213.46L160.84 213.65L161.08 213.85L161.31 214.05L161.55 214.24L161.78 214.45L162.02 214.65L162.25 214.85L162.48 215.06L162.71 215.27L162.94 215.48L163.16 215.69L163.39 215.90L163.61 216.12L163.83 216.33L164.05 216.55L164.27 216.77L164.49 216.98L164.71 217.20L164.92 217.42L165.14 217.64L165.35 217.86L165.56 218.08L165.77 218.30L165.98 218.53L166.19 218.75L166.40 218.98L166.60 219.21L166.81 219.44L167.01 219.67L167.22 219.90L167.42 220.13L167.62 220.36L167.82 220.60L168.02 220.83L168.22 221.07L168.42 221.31L168.61 221.54L168.81 221.79L169.00 222.03L169.19 222.27L169.38 222.51L169.57 222.76L169.76 223.00L169.95 223.25L170.13 223.50L170.32 223.75L170.50 224.00" fill="none" stroke="#ff2424" stroke-width="1.1" stroke-linejoin="round"/>
<path d="M72.10 244.80L72.19 244.50L72.29 244.20L72.38 243.90L72.48 243.60L72.58 243.30L72.67 243.00L72.77 242.70L72.87 242.40L72.96 242.10L73.06 241.80L73.16 241.50L73.26 241.21L73.35 240.91L73.45 240.61L73.55 240.31L73.65 240.01L73.75 239.71L73.85 239.41L73.95 239.12L74.05 238.82L74.15 238.52L74.25 238.22L74.35 237.92L74.46 237.63L74.56 237.33L74.66 237.03L74.76 236.73L74.86 236.44L74.96 236.14L75.07 235.84L75.17 235.54L75.27 235.24L75.37 234.94L75.47 234.65L75.58 234.35L75.68 234.05L75.78 233.75L75.89 233.46L75.99 233.16L76.10 232.87L76.21 232.57L76.32 232.27L76.43 231.98L76.54 231.69L76.65 231.39L76.76 231.10L76.88 230.81L76.99 230.52L77.11 230.22L77.23 229.93L77.35 229.64L77.46 229.34L77.58 229.05L77.70 228.75L77.82 228.46L77.95 228.16L78.07 227.87L78.20 227.58L78.32 227.29L78.46 227.00L78.59 226.71L78.73 226.43L78.87 226.15L79.01 225.87L79.15 225.60L79.31 225.33L79.46 225.07L79.62 224.81L79.78 224.55L79.95 224.29L80.13 224.04L80.31 223.78L80.49 223.53L80.68 223.28L80.88 223.04L81.07 222.79L81.27 222.54L81.48 222.30L81.69 222.06L81.90 221.82L82.11 221.58L82.32 221.35L82.54 221.11L82.76 220.88L82.98 220.65L83.21 220.42L83.43 220.19L83.66 219.97L83.89 219.74L84.11 219.52L84.34 219.30L84.57 219.08L84.80 218.86L85.03 218.64L85.25 218.43L85.48 218.22L85.71 218.01L85.94 217.79L86.17 217.58L86.40 217.37L86.63 217.16L86.87 216.95L87.10 216.75L87.34 216.54L87.58 216.33L87.82 216.12L88.06 215.92L88.31 215.71L88.55 215.51L88.80 215.31L89.04 215.11L89.29 214.91L89.54 214.71L89.79 214.51L90.04 214.32L90.29 214.12L90.55 213.93L90.80 213.74L91.06 213.55L91.31 213.36L91.57 213.18L91.83 213.00L92.09 212.81L92.35 212.63L92.61 212.46L92.87 212.28L93.13 212.11L93.40 211.94L93.66 211.77L93.92 211.60L94.19 211.44L94.46 211.28L94.72 211.12L94.99 210.96L95.26 210.81L95.52 210.66L95.80 210.51L96.07 210.35L96.34 210.20L96.61 210.05L96.89 209.90L97.16 209.76L97.44 209.61L97.72 209.46L98.00 209.32L98.28 209.17L98.56 209.03L98.84 208.89L99.13 208.74L99.41 208.60L99.70 208.47L99.98 208.33L100.27 208.19L100.56 208.06L100.85 207.92L101.14 207.79L101.43 207.66L101.72 207.53L102.01 207.40L102.30 207.27L102.59 207.15L102.89 207.03L103.18 206.90L103.48 206.78L103.77 206.67L104.07 206.55L104.36 206.44L104.66 206.32L104.95 206.21L105.25 206.10L105.55 206.00L105.84 205.89L106.14 205.79L106.44 205.69L106.74 205.59L107.03 205.50L107.33 205.40L107.63 205.31L107.93 205.22L108.23 205.13L108.52 205.05L108.82 204.96L109.13 204.87L109.43 204.78L109.73 204.70L110.04 204.61L110.34 204.53L110.65 204.45L110.95 204.36L111.26 204.28L111.57 204.20L111.87 204.13L112.18 204.05L112.49 203.98L112.80 203.91L113.11 203.85L113.42 203.78L113.73 203.72L114.04 203.67L114.35 203.61L114.66 203.56L114.97 203.52L115.28 203.48L115.59 203.44L115.90 203.41L116.21 203.38L116.53 203.35L116.84 203.33L117.15 203.30L117.46 203.27L117.77 203.25L118.09 203.22L118.40 203.20L118.72 203.17L119.03 203.15L119.34 203.12L119.66 203.10L119.97 203.08L120.29 203.06L120.60 203.04L120.92 203.02L121.23 203.01L121.55 202.99L121.86 202.98L122.18 202.96L122.50 202.95L122.81 202.94L123.13 202.93L123.44 202.92L123.76 202.91L124.07 202.91L124.38 202.90L124.70 202.90L125.01 202.90L125.33 202.90L125.64 202.91L125.96 202.92L126.27 202.94L126.59 202.96L126.90 202.98L127.22 203.01L127.53 203.04L127.85 203.07L128.16 203.10L128.48 203.14L128.79 203.18L129.10 203.22L129.42 203.26L129.73 203.31L130.04 203.35L130.35 203.40L130.65 203.45L130.96 203.49L131.27 203.54L131.57 203.60L131.87 203.67L132.17 203.75L132.47 203.83L132.77 203.92L133.07 204.01L133.37 204.11L133.67 204.22L133.96 204.33L134.26 204.44L134.55 204.56L134.85 204.67L135.14 204.79L135.44 204.92L135.73 205.04L136.03 205.16L136.32 205.28L136.62 205.40L136.91 205.52L137.21 205.64L137.50 205.75L137.80 205.86L138.09 205.97L138.39 206.08L138.69 206.18L138.98 206.29L139.28 206.39L139.58 206.49L139.88 206.60L140.17 206.70L140.47 206.81L140.77 206.92L141.07 207.02L141.36 207.13L141.66 207.24L141.95 207.35L142.25 207.47L142.54 207.58L142.83 207.70L143.12 207.82L143.41 207.94L143.69 208.06L143.98 208.19L144.26 208.32L144.55 208.46L144.83 208.59L145.11 208.73L145.39 208.88L145.67 209.03L145.95 209.18L146.22 209.33L146.50 209.48L146.77 209.64L147.05 209.80L147.32 209.96L147.59 210.12L147.86 210.28L148.13 210.45L148.39 210.62L148.66 210.78L148.92 210.95L149.19 211.12L149.45 211.29L149.71 211.47L149.97 211.65L150.22 211.83L150.48 212.01L150.73 212.19L150.99 212.38L151.24 212.57L151.49 212.76L151.74 212.95L151.99 213.14L152.24 213.33L152.49 213.53L152.74 213.72L152.99 213.92L153.23 214.11L153.48 214.31L153.73 214.50L153.98 214.70L154.22 214.89L154.47 215.09L154.72 215.28L154.97 215.48L155.22 215.67L155.47 215.86L155.72 216.05L155.97 216.24L156.22 216.43L156.47 216.62L156.72 216.81L156.98 217.01L157.23 217.20L157.48 217.39L157.73 217.58L157.97 217.78L158.22 217.97L158.47 218.17L158.71 218.37L158.95 218.57L159.19 218.78L159.43 218.98L159.66 219.19L159.89 219.40L160.12 219.61L160.34 219.83L160.57 220.04L160.79 220.26L161.01 220.49L161.23 220.71L161.45 220.94L161.67 221.16L161.88 221.39L162.10 221.63L162.31 221.86L162.52 222.09L162.73 222.33L162.94 222.57L163.15 222.80L163.36 223.04L163.56 223.28L163.77 223.52L163.97 223.76L164.18 224.00L164.38 224.25L164.58 224.49L164.78 224.73L164.98 224.97L165.18 225.22L165.37 225.46L165.57 225.71L165.76 225.95L165.96 226.20L166.15 226.45L166.34 226.70L166.53 226.95L166.72 227.21L166.90 227.46L167.09 227.71L167.27 227.97L167.46 228.23L167.64 228.48L167.82 228.74L168.00 229.00" fill="none" stroke="#2244ee" stroke-width="1.1" stroke-linejoin="round"/>
<path d="M68.30 244.80L68.40 244.46L68.51 244.12L68.61 243.79L68.72 243.45L68.83 243.12L68.94 242.78L69.05 242.45L69.16 242.11L69.27 241.78L69.39 241.45L69.51 241.11L69.63 240.78L69.75 240.45L69.87 240.12L69.99 239.79L70.12 239.47L70.25 239.14L70.38 238.81L70.51 238.49L70.64 238.16L70.77 237.84L70.91 237.52L71.05 237.20L71.20 236.88L71.35 236.56L71.50 236.24L71.65 235.92L71.80 235.61L71.96 235.29L72.11 234.97L72.27 234.66L72.43 234.34L72.59 234.03L72.75 233.71L72.90 233.40L73.06 233.08L73.22 232.77L73.38 232.45L73.53 232.13L73.68 231.82L73.84 231.50L73.99 231.18L74.14 230.86L74.28 230.54L74.42 230.22L74.56 229.89L74.70 229.56L74.83 229.23L74.96 228.90L75.09 228.57L75.22 228.23L75.35 227.89L75.47 227.55L75.60 227.22L75.72 226.88L75.85 226.54L75.97 226.20L76.10 225.87L76.23 225.54L76.36 225.20L76.49 224.87L76.62 224.55L76.76 224.22L76.90 223.90L77.04 223.59L77.19 223.28L77.34 222.97L77.50 222.67L77.66 222.37L77.83 222.08L78.00 221.80L78.18 221.52L78.37 221.24L78.56 220.97L78.77 220.70L78.98 220.43L79.19 220.16L79.41 219.90L79.64 219.64L79.87 219.38L80.11 219.12L80.35 218.87L80.60 218.62L80.85 218.37L81.11 218.12L81.37 217.87L81.63 217.63L81.90 217.39L82.17 217.15L82.44 216.91L82.71 216.67L82.98 216.43L83.26 216.20L83.54 215.96L83.81 215.73L84.09 215.50L84.37 215.26L84.65 215.03L84.92 214.80L85.20 214.57L85.48 214.34L85.75 214.12L86.02 213.89L86.29 213.66L86.56 213.43L86.83 213.21L87.09 212.98L87.36 212.75L87.63 212.52L87.90 212.30L88.17 212.07L88.44 211.84L88.72 211.62L88.99 211.39L89.26 211.17L89.54 210.95L89.82 210.72L90.10 210.50L90.37 210.28L90.65 210.06L90.93 209.85L91.22 209.63L91.50 209.42L91.78 209.21L92.07 209.00L92.36 208.80L92.64 208.59L92.93 208.39L93.22 208.19L93.51 208.00L93.81 207.81L94.10 207.62L94.39 207.43L94.69 207.25L94.99 207.07L95.28 206.89L95.58 206.72L95.89 206.55L96.19 206.37L96.49 206.20L96.80 206.04L97.11 205.87L97.42 205.71L97.73 205.54L98.04 205.38L98.35 205.22L98.66 205.06L98.98 204.90L99.30 204.75L99.61 204.59L99.93 204.44L100.25 204.28L100.57 204.13L100.89 203.98L101.21 203.84L101.53 203.69L101.86 203.54L102.18 203.40L102.51 203.25L102.83 203.11L103.16 202.97L103.48 202.83L103.81 202.69L104.13 202.55L104.46 202.42L104.79 202.28L105.12 202.15L105.44 202.01L105.77 201.88L106.10 201.75L106.43 201.62L106.75 201.49L107.08 201.36L107.41 201.23L107.74 201.10L108.06 200.98L108.39 200.85L108.72 200.72L109.05 200.60L109.37 200.47L109.70 200.35L110.03 200.22L110.36 200.10L110.70 199.98L111.03 199.86L111.36 199.74L111.69 199.62L112.03 199.50L112.36 199.38L112.69 199.27L113.03 199.16L113.36 199.04L113.70 198.93L114.04 198.83L114.37 198.72L114.71 198.62L115.05 198.52L115.38 198.42L115.72 198.33L116.06 198.24L116.40 198.15L116.74 198.06L117.08 197.98L117.42 197.90L117.76 197.82L118.10 197.74L118.45 197.65L118.79 197.57L119.13 197.49L119.48 197.42L119.82 197.34L120.17 197.26L120.51 197.19L120.86 197.12L121.21 197.05L121.55 196.98L121.90 196.91L122.25 196.85L122.60 196.79L122.95 196.74L123.29 196.69L123.64 196.64L123.99 196.60L124.34 196.56L124.69 196.53L125.04 196.50L125.39 196.47L125.74 196.44L126.09 196.42L126.44 196.39L126.79 196.37L127.14 196.34L127.49 196.32L127.84 196.30L128.20 196.28L128.55 196.26L128.90 196.25L129.25 196.23L129.61 196.22L129.96 196.21L130.31 196.21L130.66 196.20L131.01 196.20L131.36 196.20L131.72 196.21L132.07 196.22L132.42 196.24L132.77 196.26L133.12 196.29L133.48 196.32L133.83 196.35L134.18 196.39L134.53 196.43L134.88 196.47L135.23 196.52L135.58 196.56L135.93 196.61L136.28 196.66L136.63 196.71L136.98 196.76L137.32 196.81L137.67 196.87L138.01 196.92L138.36 196.97L138.70 197.04L139.04 197.10L139.38 197.18L139.73 197.26L140.07 197.34L140.41 197.43L140.75 197.52L141.09 197.62L141.43 197.72L141.76 197.82L142.10 197.93L142.44 198.04L142.78 198.15L143.11 198.26L143.45 198.37L143.78 198.49L144.12 198.60L144.45 198.72L144.79 198.84L145.12 198.96L145.45 199.07L145.79 199.19L146.12 199.30L146.45 199.42L146.78 199.53L147.11 199.65L147.44 199.77L147.77 199.89L148.10 200.02L148.43 200.14L148.75 200.27L149.08 200.40L149.41 200.54L149.73 200.67L150.06 200.80L150.38 200.94L150.71 201.08L151.03 201.21L151.36 201.35L151.68 201.49L152.01 201.63L152.33 201.77L152.65 201.91L152.98 202.04L153.30 202.18L153.63 202.32L153.95 202.46L154.28 202.60L154.60 202.73L154.93 202.87L155.25 203.00L155.58 203.14L155.90 203.27L156.23 203.40L156.56 203.53L156.89 203.66L157.22 203.79L157.55 203.92L157.87 204.05L158.20 204.19L158.52 204.32L158.84 204.46L159.16 204.61L159.48 204.75L159.80 204.90L160.11 205.06L160.42 205.22L160.74 205.38L161.05 205.54L161.35 205.71L161.66 205.89L161.97 206.06L162.27 206.24L162.57 206.42L162.88 206.61L163.18 206.80L163.47 206.99L163.77 207.18L164.07 207.37L164.36 207.57L164.65 207.76L164.94 207.96L165.23 208.16L165.51 208.36L165.80 208.57L166.08 208.77L166.36 208.98L166.64 209.20L166.92 209.41L167.20 209.63L167.48 209.85L167.75 210.07L168.03 210.30L168.30 210.52L168.57 210.75L168.84 210.98L169.10 211.21L169.37 211.44L169.63 211.67L169.89 211.91L170.16 212.14L170.42 212.38L170.68 212.61L170.94 212.85L171.20 213.09L171.46 213.33L171.72 213.57L171.98 213.82L172.23 214.07L172.48 214.32L172.73 214.57L172.97 214.82L173.21 215.08L173.45 215.34L173.67 215.60L173.90 215.87L174.11 216.14L174.33 216.42L174.54 216.69L174.74 216.97L174.95 217.25L175.15 217.54L175.35 217.83L175.55 218.12L175.74 218.41L175.94 218.71L176.12 219.01L176.31 219.31L176.49 219.61L176.67 219.92L176.84 220.23L177.01 220.54L177.18 220.86L177.34 221.18L177.50 221.50" fill="none" stroke="#33cc33" stroke-width="1.1" stroke-linejoin="round"/>
</g>
<g clip-path="url(#cb)">
<rect x="37.75" y="417.90" width="4.70" height="4.70" fill="#3b3b3b"/>
<rect x="45.19" y="414.32" width="4.70" height="4.70" fill="#3b3b3b"/>
<rect x="52.62" y="407.50" width="4.70" height="4.70" fill="#3b3b3b"/>
<rect x="60.05" y="398.52" width="4.70" height="4.70" fill="#3b3b3b"/>
<rect x="67.49" y="389.17" width="4.70" height="4.70" fill="#3b3b3b"/>
<rect x="74.93" y="377.79" width="4.70" height="4.70" fill="#3b3b3b"/>
<rect x="82.36" y="365.05" width="4.70" height="4.70" fill="#3b3b3b"/>
<rect x="89.80" y="352.30" width="4.70" height="4.70" fill="#3b3b3b"/>
<rect x="97.23" y="338.38" width="4.70" height="4.70" fill="#3b3b3b"/>
<rect x="104.66" y="326.52" width="4.70" height="4.70" fill="#3b3b3b"/>
<rect x="112.10" y="318.96" width="4.70" height="4.70" fill="#3b3b3b"/>
<rect x="119.53" y="319.55" width="4.70" height="4.70" fill="#3b3b3b"/>
<rect x="126.97" y="325.47" width="4.70" height="4.70" fill="#3b3b3b"/>
<rect x="134.41" y="337.80" width="4.70" height="4.70" fill="#3b3b3b"/>
<rect x="141.84" y="352.82" width="4.70" height="4.70" fill="#3b3b3b"/>
<rect x="149.28" y="368.30" width="4.70" height="4.70" fill="#3b3b3b"/>
<rect x="156.71" y="383.76" width="4.70" height="4.70" fill="#3b3b3b"/>
<rect x="164.15" y="396.09" width="4.70" height="4.70" fill="#3b3b3b"/>
<rect x="171.58" y="406.97" width="4.70" height="4.70" fill="#3b3b3b"/>
<rect x="179.01" y="413.46" width="4.70" height="4.70" fill="#3b3b3b"/>
<rect x="186.45" y="418.94" width="4.70" height="4.70" fill="#3b3b3b"/>
<rect x="193.88" y="422.03" width="4.70" height="4.70" fill="#3b3b3b"/>
<rect x="201.32" y="424.17" width="4.70" height="4.70" fill="#3b3b3b"/>
<rect x="208.75" y="427.19" width="4.70" height="4.70" fill="#3b3b3b"/>
<rect x="216.19" y="429.81" width="4.70" height="4.70" fill="#3b3b3b"/>
<rect x="223.62" y="431.65" width="4.70" height="4.70" fill="#3b3b3b"/>
<rect x="231.06" y="432.70" width="4.70" height="4.70" fill="#3b3b3b"/>
<rect x="238.49" y="433.63" width="4.70" height="4.70" fill="#3b3b3b"/>
<rect x="245.93" y="434.47" width="4.70" height="4.70" fill="#3b3b3b"/>
<rect x="253.36" y="435.23" width="4.70" height="4.70" fill="#3b3b3b"/>
<rect x="260.80" y="435.94" width="4.70" height="4.70" fill="#3b3b3b"/>
<rect x="268.23" y="436.73" width="4.70" height="4.70" fill="#3b3b3b"/>
<rect x="275.67" y="438.23" width="4.70" height="4.70" fill="#3b3b3b"/>
<rect x="283.10" y="439.69" width="4.70" height="4.70" fill="#3b3b3b"/>
<rect x="290.54" y="441.37" width="4.70" height="4.70" fill="#3b3b3b"/>
<rect x="297.97" y="443.78" width="4.70" height="4.70" fill="#3b3b3b"/>
<rect x="305.41" y="447.99" width="4.70" height="4.70" fill="#3b3b3b"/>
<rect x="312.84" y="453.83" width="4.70" height="4.70" fill="#3b3b3b"/>
<rect x="320.28" y="461.60" width="4.70" height="4.70" fill="#3b3b3b"/>
<rect x="327.71" y="472.36" width="4.70" height="4.70" fill="#3b3b3b"/>
<rect x="335.15" y="488.31" width="4.70" height="4.70" fill="#3b3b3b"/>
<rect x="342.58" y="511.22" width="4.70" height="4.70" fill="#3b3b3b"/>
<circle cx="40.10" cy="421.89" r="2.75" fill="#ee3a3a"/>
<circle cx="47.54" cy="421.38" r="2.75" fill="#ee3a3a"/>
<circle cx="54.97" cy="418.86" r="2.75" fill="#ee3a3a"/>
<circle cx="62.41" cy="413.00" r="2.75" fill="#ee3a3a"/>
<circle cx="69.84" cy="405.72" r="2.75" fill="#ee3a3a"/>
<circle cx="77.28" cy="395.13" r="2.75" fill="#ee3a3a"/>
<circle cx="84.71" cy="385.60" r="2.75" fill="#ee3a3a"/>
<circle cx="92.14" cy="375.98" r="2.75" fill="#ee3a3a"/>
<circle cx="99.58" cy="368.41" r="2.75" fill="#ee3a3a"/>
<circle cx="107.01" cy="361.24" r="2.75" fill="#ee3a3a"/>
<circle cx="114.45" cy="358.00" r="2.75" fill="#ee3a3a"/>
<circle cx="121.88" cy="359.95" r="2.75" fill="#ee3a3a"/>
<circle cx="129.32" cy="365.92" r="2.75" fill="#ee3a3a"/>
<circle cx="136.75" cy="375.64" r="2.75" fill="#ee3a3a"/>
<circle cx="144.19" cy="387.68" r="2.75" fill="#ee3a3a"/>
<circle cx="151.62" cy="398.03" r="2.75" fill="#ee3a3a"/>
<circle cx="159.06" cy="408.06" r="2.75" fill="#ee3a3a"/>
<circle cx="166.50" cy="413.91" r="2.75" fill="#ee3a3a"/>
<circle cx="173.93" cy="420.55" r="2.75" fill="#ee3a3a"/>
<circle cx="181.36" cy="424.88" r="2.75" fill="#ee3a3a"/>
<circle cx="188.80" cy="428.52" r="2.75" fill="#ee3a3a"/>
<circle cx="196.23" cy="431.06" r="2.75" fill="#ee3a3a"/>
<circle cx="203.67" cy="434.51" r="2.75" fill="#ee3a3a"/>
<circle cx="211.10" cy="435.51" r="2.75" fill="#ee3a3a"/>
<circle cx="218.54" cy="436.55" r="2.75" fill="#ee3a3a"/>
<circle cx="225.97" cy="437.00" r="2.75" fill="#ee3a3a"/>
<circle cx="233.41" cy="437.53" r="2.75" fill="#ee3a3a"/>
<circle cx="240.84" cy="437.99" r="2.75" fill="#ee3a3a"/>
<circle cx="248.28" cy="438.81" r="2.75" fill="#ee3a3a"/>
<circle cx="255.71" cy="439.58" r="2.75" fill="#ee3a3a"/>
<circle cx="263.15" cy="440.29" r="2.75" fill="#ee3a3a"/>
<circle cx="270.58" cy="441.08" r="2.75" fill="#ee3a3a"/>
<circle cx="278.02" cy="442.58" r="2.75" fill="#ee3a3a"/>
<circle cx="285.45" cy="444.04" r="2.75" fill="#ee3a3a"/>
<circle cx="292.89" cy="445.72" r="2.75" fill="#ee3a3a"/>
<circle cx="300.32" cy="443.13" r="2.75" fill="#ee3a3a"/>
<circle cx="307.76" cy="447.34" r="2.75" fill="#ee3a3a"/>
<circle cx="315.19" cy="453.18" r="2.75" fill="#ee3a3a"/>
<circle cx="322.63" cy="460.98" r="2.75" fill="#ee3a3a"/>
<circle cx="330.06" cy="470.10" r="2.75" fill="#ee3a3a"/>
<circle cx="337.50" cy="484.57" r="2.75" fill="#ee3a3a"/>
<circle cx="344.94" cy="502.39" r="2.75" fill="#ee3a3a"/>
<path d="M40.10 424.78L43.30 430.18L36.90 430.18Z" fill="#1f62e8"/>
<path d="M47.54 423.53L50.74 428.93L44.34 428.93Z" fill="#1f62e8"/>
<path d="M54.97 421.06L58.17 426.46L51.77 426.46Z" fill="#1f62e8"/>
<path d="M62.41 414.30L65.61 419.70L59.20 419.70Z" fill="#1f62e8"/>
<path d="M69.84 407.95L73.04 413.35L66.64 413.35Z" fill="#1f62e8"/>
<path d="M77.28 400.04L80.48 405.44L74.08 405.44Z" fill="#1f62e8"/>
<path d="M84.71 391.65L87.91 397.05L81.51 397.05Z" fill="#1f62e8"/>
<path d="M92.14 381.89L95.34 387.29L88.94 387.29Z" fill="#1f62e8"/>
<path d="M99.58 372.45L102.78 377.85L96.38 377.85Z" fill="#1f62e8"/>
<path d="M107.01 362.25L110.21 367.65L103.81 367.65Z" fill="#1f62e8"/>
<path d="M114.45 354.78L117.65 360.18L111.25 360.18Z" fill="#1f62e8"/>
<path d="M121.88 352.30L125.08 357.70L118.68 357.70Z" fill="#1f62e8"/>
<path d="M129.32 355.75L132.52 361.15L126.12 361.15Z" fill="#1f62e8"/>
<path d="M136.75 364.37L139.95 369.77L133.56 369.77Z" fill="#1f62e8"/>
<path d="M144.19 375.97L147.39 381.37L140.99 381.37Z" fill="#1f62e8"/>
<path d="M151.62 387.94L154.82 393.34L148.43 393.34Z" fill="#1f62e8"/>
<path d="M159.06 397.97L162.26 403.37L155.86 403.37Z" fill="#1f62e8"/>
<path d="M166.50 406.59L169.69 411.99L163.30 411.99Z" fill="#1f62e8"/>
<path d="M173.93 414.24L177.13 419.64L170.73 419.64Z" fill="#1f62e8"/>
<path d="M181.36 420.17L184.56 425.57L178.16 425.57Z" fill="#1f62e8"/>
<path d="M188.80 423.23L192.00 428.63L185.60 428.63Z" fill="#1f62e8"/>
<path d="M196.23 425.35L199.43 430.75L193.03 430.75Z" fill="#1f62e8"/>
<path d="M203.67 425.32L206.87 430.72L200.47 430.72Z" fill="#1f62e8"/>
<path d="M211.10 427.33L214.30 432.73L207.91 432.73Z" fill="#1f62e8"/>
<path d="M218.54 428.91L221.74 434.31L215.34 434.31Z" fill="#1f62e8"/>
<path d="M225.97 430.30L229.17 435.70L222.78 435.70Z" fill="#1f62e8"/>
<path d="M233.41 430.84L236.61 436.24L230.21 436.24Z" fill="#1f62e8"/>
<path d="M240.84 431.78L244.04 437.18L237.64 437.18Z" fill="#1f62e8"/>
<path d="M248.28 432.62L251.48 438.02L245.08 438.02Z" fill="#1f62e8"/>
<path d="M255.71 433.38L258.91 438.78L252.51 438.78Z" fill="#1f62e8"/>
<path d="M263.15 434.09L266.35 439.49L259.95 439.49Z" fill="#1f62e8"/>
<path d="M270.58 434.88L273.78 440.28L267.38 440.28Z" fill="#1f62e8"/>
<path d="M278.02 436.38L281.22 441.78L274.82 441.78Z" fill="#1f62e8"/>
<path d="M285.45 437.84L288.65 443.24L282.25 443.24Z" fill="#1f62e8"/>
<path d="M292.89 439.52L296.09 444.92L289.69 444.92Z" fill="#1f62e8"/>
<path d="M300.32 443.43L303.52 448.83L297.12 448.83Z" fill="#1f62e8"/>
<path d="M307.76 447.64L310.96 453.04L304.56 453.04Z" fill="#1f62e8"/>
<path d="M315.19 453.48L318.39 458.88L312.00 458.88Z" fill="#1f62e8"/>
<path d="M322.63 461.25L325.83 466.65L319.43 466.65Z" fill="#1f62e8"/>
<path d="M330.06 472.01L333.26 477.41L326.87 477.41Z" fill="#1f62e8"/>
<path d="M337.50 487.96L340.70 493.36L334.30 493.36Z" fill="#1f62e8"/>
<path d="M344.94 510.87L348.13 516.27L341.74 516.27Z" fill="#1f62e8"/>
<path d="M36.90 409.22L43.30 409.22L40.10 414.62Z" fill="#229e55"/>
<path d="M44.34 409.60L50.74 409.60L47.54 415.00Z" fill="#229e55"/>
<path d="M51.77 409.32L58.17 409.32L54.97 414.72Z" fill="#229e55"/>
<path d="M59.20 408.30L65.61 408.30L62.41 413.70Z" fill="#229e55"/>
<path d="M66.64 403.09L73.04 403.09L69.84 408.49Z" fill="#229e55"/>
<path d="M74.08 394.97L80.48 394.97L77.28 400.37Z" fill="#229e55"/>
<path d="M81.51 384.89L87.91 384.89L84.71 390.29Z" fill="#229e55"/>
<path d="M88.94 375.09L95.34 375.09L92.14 380.49Z" fill="#229e55"/>
<path d="M96.38 363.93L102.78 363.93L99.58 369.33Z" fill="#229e55"/>
<path d="M103.81 355.29L110.21 355.29L107.01 360.69Z" fill="#229e55"/>
<path d="M111.25 349.79L117.65 349.79L114.45 355.19Z" fill="#229e55"/>
<path d="M118.68 349.33L125.08 349.33L121.88 354.73Z" fill="#229e55"/>
<path d="M126.12 351.44L132.52 351.44L129.32 356.84Z" fill="#229e55"/>
<path d="M133.56 359.00L139.95 359.00L136.75 364.40Z" fill="#229e55"/>
<path d="M140.99 369.97L147.39 369.97L144.19 375.37Z" fill="#229e55"/>
<path d="M148.43 382.34L154.82 382.34L151.62 387.74Z" fill="#229e55"/>
<path d="M155.86 393.38L162.26 393.38L159.06 398.78Z" fill="#229e55"/>
<path d="M163.30 402.18L169.69 402.18L166.50 407.58Z" fill="#229e55"/>
<path d="M170.73 410.24L177.13 410.24L173.93 415.64Z" fill="#229e55"/>
<path d="M178.16 416.16L184.56 416.16L181.36 421.56Z" fill="#229e55"/>
<path d="M185.60 419.70L192.00 419.70L188.80 425.10Z" fill="#229e55"/>
<path d="M193.03 423.39L199.43 423.39L196.23 428.79Z" fill="#229e55"/>
<path d="M200.47 426.62L206.87 426.62L203.67 432.02Z" fill="#229e55"/>
<path d="M207.91 428.63L214.30 428.63L211.10 434.03Z" fill="#229e55"/>
<path d="M215.34 430.72L221.74 430.72L218.54 436.12Z" fill="#229e55"/>
<path d="M222.78 432.10L229.17 432.10L225.97 437.50Z" fill="#229e55"/>
<path d="M230.21 433.15L236.61 433.15L233.41 438.55Z" fill="#229e55"/>
<path d="M237.64 434.08L244.04 434.08L240.84 439.48Z" fill="#229e55"/>
<path d="M245.08 434.92L251.48 434.92L248.28 440.32Z" fill="#229e55"/>
<path d="M252.51 435.68L258.91 435.68L255.71 441.08Z" fill="#229e55"/>
<path d="M259.95 436.39L266.35 436.39L263.15 441.79Z" fill="#229e55"/>
<path d="M267.38 437.18L273.78 437.18L270.58 442.58Z" fill="#229e55"/>
<path d="M274.82 438.68L281.22 438.68L278.02 444.08Z" fill="#229e55"/>
<path d="M282.25 440.14L288.65 440.14L285.45 445.54Z" fill="#229e55"/>
<path d="M289.69 441.82L296.09 441.82L292.89 447.22Z" fill="#229e55"/>
<path d="M297.12 446.43L303.52 446.43L300.32 451.83Z" fill="#229e55"/>
<path d="M304.56 450.64L310.96 450.64L307.76 456.04Z" fill="#229e55"/>
<path d="M312.00 456.47L318.39 456.47L315.19 461.87Z" fill="#229e55"/>
<path d="M319.43 464.22L325.83 464.22L322.63 469.62Z" fill="#229e55"/>
<path d="M326.87 476.93L333.26 476.93L330.06 482.33Z" fill="#229e55"/>
<path d="M334.30 494.68L340.70 494.68L337.50 500.08Z" fill="#229e55"/>
<path d="M341.74 519.29L348.13 519.29L344.94 524.69Z" fill="#229e55"/>
<path d="M62.71 405.00L63.65 404.00L64.59 402.91L65.53 401.73L66.48 400.47L67.42 399.14L68.36 397.72L69.31 396.24L70.25 394.70L71.19 393.16L72.13 391.63L73.08 390.04L74.02 388.40L74.96 386.71L75.91 384.98L76.85 383.20L77.79 381.38L78.73 379.53L79.68 377.65L80.62 375.74L81.56 373.81L82.50 371.85L83.45 369.88L84.39 367.89L85.33 365.89L86.28 363.89L87.22 361.88L88.16 359.88L89.10 357.87L90.05 355.88L90.99 353.89L91.93 351.93L92.88 349.98L93.82 348.05L94.76 346.15L95.70 344.28L96.65 342.44L97.59 340.65L98.53 338.90L99.48 337.20L100.42 335.55L101.36 333.96L102.30 332.43L103.25 330.97L104.19 329.57L105.13 328.26L106.07 327.02L107.02 325.86L107.96 324.79L108.90 323.82L109.85 322.94L110.79 322.16L111.73 321.48L112.67 320.92L113.62 320.47L114.56 320.13L115.50 319.92L116.45 319.83L117.39 319.85L118.33 319.98L119.27 320.21L120.22 320.56L121.16 321.00L122.10 321.54L123.04 322.17L123.99 322.90L124.93 323.71L125.87 324.61L126.82 325.59L127.76 326.65L128.70 327.78L129.64 328.98L130.59 330.24L131.53 331.58L132.47 332.97L133.42 334.42L134.36 335.92L135.30 337.48L136.24 339.08L137.19 340.73L138.13 342.41L139.07 344.14L140.01 345.90L140.96 347.69L141.90 349.52L142.84 351.36L143.79 353.24L144.73 355.13L145.67 357.05L146.61 358.98L147.56 360.92L148.50 362.87L149.44 364.84L150.39 366.80L151.33 368.77L152.27 370.74L153.21 372.70L154.16 374.66L155.10 376.61L156.04 378.55L156.99 380.48L157.93 382.39L158.87 384.27L159.81 386.14L160.76 387.98L161.70 389.79L162.64 391.58L163.58 393.32L164.53 395.04L165.47 396.71L166.41 398.34L167.36 399.93L168.30 401.47L169.24 402.96L170.18 404.40L171.13 405.78L172.07 407.11L173.01 408.37L173.96 409.57L174.90 410.71L175.84 411.78L176.78 412.79L177.73 413.74L178.67 414.64L179.61 415.48L180.55 416.27L181.50 417.02L182.44 417.72L183.38 418.38L184.33 418.99L185.27 419.57L186.21 420.12L187.15 420.64L188.10 421.12L189.04 421.59L189.98 422.02L190.93 422.44L191.87 422.84L192.81 423.22L193.75 423.59L194.70 423.96L195.64 424.31L196.58 424.66L197.53 425.01L198.47 425.35L199.41 425.69L200.35 426.02L201.30 426.36L202.24 426.68L203.18 427.01L204.12 427.33L205.07 427.64L206.01 427.96L206.95 428.26L207.90 428.57L208.84 428.86L209.78 429.16L210.72 429.45L211.67 429.73L212.61 430.01L213.55 430.28L214.50 430.55L215.44 430.81L216.38 431.07L217.32 431.33L218.27 431.57L219.21 431.81L220.15 432.05L221.09 432.28L222.04 432.51L222.98 432.73L223.92 432.94L224.87 433.16L225.81 433.36L226.75 433.56L227.69 433.76L228.64 433.95L229.58 434.14L230.52 434.32L231.47 434.50L232.41 434.67L233.35 434.84L234.29 435.01L235.24 435.17L236.18 435.33L237.12 435.48L238.06 435.63L239.01 435.78L239.95 435.92L240.89 436.06L241.84 436.20L242.78 436.33L243.72 436.46L244.66 436.59L245.61 436.71L246.55 436.83L247.49 436.95L248.44 437.07L249.38 437.18L250.32 437.29L251.26 437.40L252.21 437.51L253.15 437.61L254.09 437.71L255.04 437.81L255.98 437.91L256.92 438.00L257.86 438.10L258.81 438.19L259.75 438.28L260.69 438.37L261.63 438.46L262.58 438.54L263.52 438.63L264.46 438.72L265.41 438.80L266.35 438.89L267.29 438.98L268.23 439.07L269.18 439.17L270.12 439.27L271.06 439.37L272.01 439.47L272.95 439.58L273.89 439.69L274.83 439.81L275.78 439.93L276.72 440.06L277.66 440.20L278.60 440.34L279.55 440.49L280.49 440.64L281.43 440.81L282.38 440.98L283.32 441.16L284.26 441.36L285.20 441.56L286.15 441.77L287.09 441.99L288.03 442.23L288.98 442.47L289.92 442.73L290.86 443.00L291.80 443.28L292.75 443.58L293.69 443.89L294.63 444.21L295.58 444.55L296.52 444.91L297.46 445.27L298.40 445.66L299.35 446.06L300.29 446.48L301.23 446.92L302.17 447.37L303.12 447.84L304.06 448.34L305.00 448.85L305.95 449.37L306.89 449.92L307.83 450.49L308.77 451.09L309.72 451.70L310.66 452.34L311.60 453.00L312.55 453.70L313.49 454.43L314.43 455.19L315.37 455.99L316.32 456.83L317.26 457.72L318.20 458.64L319.14 459.61L320.09 460.63L321.03 461.71L321.97 462.83L322.92 464.01L323.86 465.25L324.80 466.55L325.74 467.91L326.69 469.34L327.63 470.84L328.57 472.40L329.52 474.04L330.46 475.75L331.40 477.54L332.34 479.41L333.29 481.36L334.23 483.39L335.17 485.52L336.11 487.72L337.06 490.03L338.00 492.42L338.94 494.91L339.89 497.50L340.83 500.19L341.77 502.98L342.71 505.88L343.66 508.88L344.60 511.99" fill="none" stroke="#1a1a1a" stroke-width="1.1" stroke-linejoin="round"/>
<path d="M62.71 412.90L63.65 412.07L64.59 411.19L65.53 410.26L66.48 409.29L67.42 408.28L68.36 407.24L69.31 406.15L70.25 405.03L71.19 403.86L72.13 402.62L73.08 401.36L74.02 400.08L74.96 398.78L75.91 397.47L76.85 396.14L77.79 394.80L78.73 393.45L79.68 392.10L80.62 390.75L81.56 389.40L82.50 388.05L83.45 386.70L84.39 385.37L85.33 384.05L86.28 382.74L87.22 381.45L88.16 380.18L89.10 378.94L90.05 377.71L90.99 376.52L91.93 375.36L92.88 374.23L93.82 373.13L94.76 372.07L95.70 371.05L96.65 370.06L97.59 369.11L98.53 368.19L99.48 367.31L100.42 366.48L101.36 365.68L102.30 364.92L103.25 364.21L104.19 363.53L105.13 362.91L106.07 362.32L107.02 361.78L107.96 361.29L108.90 360.85L109.85 360.46L110.79 360.12L111.73 359.84L112.67 359.60L113.62 359.43L114.56 359.31L115.50 359.25L116.45 359.25L117.39 359.32L118.33 359.44L119.27 359.63L120.22 359.88L121.16 360.20L122.10 360.59L123.04 361.04L123.99 361.55L124.93 362.14L125.87 362.79L126.82 363.50L127.76 364.29L128.70 365.14L129.64 366.07L130.59 367.06L131.53 368.11L132.47 369.22L133.42 370.39L134.36 371.61L135.30 372.87L136.24 374.18L137.19 375.52L138.13 376.89L139.07 378.30L140.01 379.72L140.96 381.17L141.90 382.64L142.84 384.12L143.79 385.60L144.73 387.09L145.67 388.59L146.61 390.07L147.56 391.55L148.50 393.01L149.44 394.46L150.39 395.89L151.33 397.29L152.27 398.66L153.21 400.00L154.16 401.31L155.10 402.59L156.04 403.83L156.99 405.04L157.93 406.22L158.87 407.37L159.81 408.49L160.76 409.57L161.70 410.62L162.64 411.64L163.58 412.62L164.53 413.56L165.47 414.48L166.41 415.36L167.36 416.20L168.30 417.01L169.24 417.79L170.18 418.53L171.13 419.25L172.07 419.93L173.01 420.59L173.96 421.21L174.90 421.81L175.84 422.39L176.78 422.93L177.73 423.46L178.67 423.96L179.61 424.43L180.55 424.89L181.50 425.32L182.44 425.74L183.38 426.13L184.33 426.51L185.27 426.87L186.21 427.22L187.15 427.55L188.10 427.86L189.04 428.17L189.98 428.46L190.93 428.74L191.87 429.01L192.81 429.27L193.75 429.52L194.70 429.76L195.64 430.00L196.58 430.23L197.53 430.46L198.47 430.68L199.41 430.90L200.35 431.11L201.30 431.32L202.24 431.53L203.18 431.73L204.12 431.92L205.07 432.11L206.01 432.30L206.95 432.48L207.90 432.65L208.84 432.83L209.78 433.00L210.72 433.16L211.67 433.32L212.61 433.48L213.55 433.63L214.50 433.78L215.44 433.93L216.38 434.07L217.32 434.21L218.27 434.35L219.21 434.48L220.15 434.61L221.09 434.74L222.04 434.86L222.98 434.99L223.92 435.10L224.87 435.22L225.81 435.33L226.75 435.44L227.69 435.55L228.64 435.66L229.58 435.76L230.52 435.86L231.47 435.96L232.41 436.05L233.35 436.15L234.29 436.24L235.24 436.33L236.18 436.42L237.12 436.51L238.06 436.59L239.01 436.67L239.95 436.76L240.89 436.84L241.84 436.92L242.78 436.99L243.72 437.07L244.66 437.15L245.61 437.22L246.55 437.30L247.49 437.37L248.44 437.44L249.38 437.51L250.32 437.58L251.26 437.65L252.21 437.72L253.15 437.79L254.09 437.86L255.04 437.93L255.98 438.00L256.92 438.07L257.86 438.14L258.81 438.21L259.75 438.28L260.69 438.35L261.63 438.42L262.58 438.49L263.52 438.56L264.46 438.63L265.41 438.70L266.35 438.77L267.29 438.85L268.23 438.92L269.18 439.00L270.12 439.07L271.06 439.15L272.01 439.23L272.95 439.31L273.89 439.40L274.83 439.48L275.78 439.58L276.72 439.68L277.66 439.78L278.60 439.89L279.55 440.01L280.49 440.14L281.43 440.27L282.38 440.41L283.32 440.57L284.26 440.73L285.20 440.91L286.15 441.09L287.09 441.29L288.03 441.50L288.98 441.73L289.92 441.97L290.86 442.23L291.80 442.50L292.75 442.79L293.69 443.09L294.63 443.41L295.58 443.75L296.52 444.11L297.46 444.49L298.40 444.89L299.35 445.32L300.29 445.76L301.23 446.22L302.17 446.71L303.12 447.22L304.06 447.76L305.00 448.32L305.95 448.91L306.89 449.52L307.83 450.16L308.77 450.83L309.72 451.53L310.66 452.25L311.60 453.01L312.55 453.79L313.49 454.61L314.43 455.46L315.37 456.34L316.32 457.25L317.26 458.20L318.20 459.18L319.14 460.20L320.09 461.25L321.03 462.34L321.97 463.46L322.92 464.63L323.86 465.83L324.80 467.07L325.74 468.35L326.69 469.67L327.63 471.03L328.57 472.43L329.52 473.87L330.46 475.36L331.40 476.89L332.34 478.47L333.29 480.09L334.23 481.75L335.17 483.46L336.11 485.22L337.06 487.03L338.00 488.88L338.94 490.79L339.89 492.74L340.83 494.74L341.77 496.80L342.71 498.90L343.66 501.06L344.60 503.27" fill="none" stroke="#f01e1e" stroke-width="1.1" stroke-linejoin="round"/>
<path d="M62.71 417.10L63.65 416.42L64.59 415.71L65.53 414.97L66.48 414.20L67.42 413.41L68.36 412.59L69.31 411.74L70.25 410.87L71.19 409.93L72.13 408.94L73.08 407.91L74.02 406.87L74.96 405.81L75.91 404.72L76.85 403.62L77.79 402.50L78.73 401.36L79.68 400.21L80.62 399.04L81.56 397.85L82.50 396.65L83.45 395.44L84.39 394.21L85.33 392.97L86.28 391.72L87.22 390.46L88.16 389.19L89.10 387.91L90.05 386.62L90.99 385.32L91.93 384.01L92.88 382.69L93.82 381.37L94.76 380.04L95.70 378.71L96.65 377.38L97.59 376.05L98.53 374.73L99.48 373.42L100.42 372.13L101.36 370.84L102.30 369.58L103.25 368.33L104.19 367.12L105.13 365.93L106.07 364.77L107.02 363.65L107.96 362.58L108.90 361.56L109.85 360.58L110.79 359.68L111.73 358.83L112.67 358.06L113.62 357.37L114.56 356.77L115.50 356.26L116.45 355.84L117.39 355.51L118.33 355.27L119.27 355.13L120.22 355.08L121.16 355.13L122.10 355.26L123.04 355.49L123.99 355.79L124.93 356.18L125.87 356.65L126.82 357.19L127.76 357.81L128.70 358.50L129.64 359.26L130.59 360.08L131.53 360.96L132.47 361.90L133.42 362.90L134.36 363.94L135.30 365.03L136.24 366.17L137.19 367.34L138.13 368.56L139.07 369.81L140.01 371.10L140.96 372.41L141.90 373.76L142.84 375.13L143.79 376.53L144.73 377.95L145.67 379.39L146.61 380.85L147.56 382.32L148.50 383.81L149.44 385.30L150.39 386.80L151.33 388.30L152.27 389.80L153.21 391.29L154.16 392.79L155.10 394.27L156.04 395.74L156.99 397.19L157.93 398.63L158.87 400.05L159.81 401.44L160.76 402.80L161.70 404.13L162.64 405.43L163.58 406.70L164.53 407.92L165.47 409.10L166.41 410.24L167.36 411.32L168.30 412.36L169.24 413.35L170.18 414.30L171.13 415.20L172.07 416.06L173.01 416.87L173.96 417.65L174.90 418.39L175.84 419.09L176.78 419.76L177.73 420.39L178.67 420.99L179.61 421.56L180.55 422.10L181.50 422.61L182.44 423.10L183.38 423.56L184.33 423.99L185.27 424.40L186.21 424.80L187.15 425.17L188.10 425.52L189.04 425.86L189.98 426.18L190.93 426.49L191.87 426.79L192.81 427.07L193.75 427.35L194.70 427.62L195.64 427.88L196.58 428.13L197.53 428.38L198.47 428.63L199.41 428.87L200.35 429.11L201.30 429.34L202.24 429.57L203.18 429.80L204.12 430.02L205.07 430.24L206.01 430.45L206.95 430.66L207.90 430.87L208.84 431.07L209.78 431.26L210.72 431.46L211.67 431.65L212.61 431.84L213.55 432.02L214.50 432.20L215.44 432.38L216.38 432.55L217.32 432.72L218.27 432.89L219.21 433.06L220.15 433.22L221.09 433.38L222.04 433.53L222.98 433.69L223.92 433.84L224.87 433.98L225.81 434.13L226.75 434.27L227.69 434.41L228.64 434.55L229.58 434.69L230.52 434.82L231.47 434.95L232.41 435.08L233.35 435.21L234.29 435.33L235.24 435.46L236.18 435.58L237.12 435.70L238.06 435.81L239.01 435.93L239.95 436.05L240.89 436.16L241.84 436.27L242.78 436.38L243.72 436.49L244.66 436.60L245.61 436.70L246.55 436.81L247.49 436.91L248.44 437.02L249.38 437.12L250.32 437.22L251.26 437.32L252.21 437.42L253.15 437.52L254.09 437.62L255.04 437.72L255.98 437.82L256.92 437.91L257.86 438.01L258.81 438.11L259.75 438.20L260.69 438.30L261.63 438.40L262.58 438.49L263.52 438.59L264.46 438.69L265.41 438.78L266.35 438.88L267.29 438.98L268.23 439.08L269.18 439.17L270.12 439.27L271.06 439.37L272.01 439.47L272.95 439.58L273.89 439.68L274.83 439.79L275.78 439.90L276.72 440.02L277.66 440.14L278.60 440.27L279.55 440.40L280.49 440.54L281.43 440.69L282.38 440.85L283.32 441.01L284.26 441.19L285.20 441.37L286.15 441.57L287.09 441.77L288.03 441.99L288.98 442.22L289.92 442.47L290.86 442.72L291.80 443.00L292.75 443.28L293.69 443.58L294.63 443.90L295.58 444.24L296.52 444.59L297.46 444.96L298.40 445.35L299.35 445.76L300.29 446.19L301.23 446.64L302.17 447.11L303.12 447.61L304.06 448.12L305.00 448.66L305.95 449.22L306.89 449.81L307.83 450.42L308.77 451.06L309.72 451.72L310.66 452.41L311.60 453.13L312.55 453.87L313.49 454.65L314.43 455.45L315.37 456.29L316.32 457.15L317.26 458.05L318.20 458.99L319.14 459.96L320.09 460.98L321.03 462.05L321.97 463.16L322.92 464.33L323.86 465.55L324.80 466.82L325.74 468.16L326.69 469.56L327.63 471.02L328.57 472.56L329.52 474.16L330.46 475.84L331.40 477.60L332.34 479.44L333.29 481.35L334.23 483.36L335.17 485.45L336.11 487.64L337.06 489.92L338.00 492.29L338.94 494.77L339.89 497.35L340.83 500.03L341.77 502.82L342.71 505.73L343.66 508.75L344.60 511.88" fill="none" stroke="#1a2ee0" stroke-width="1.1" stroke-linejoin="round"/>
<path d="M62.71 412.90L63.65 412.26L64.59 411.54L65.53 410.75L66.48 409.89L67.42 408.96L68.36 407.97L69.31 406.92L70.25 405.81L71.19 404.74L72.13 403.70L73.08 402.61L74.02 401.48L74.96 400.31L75.91 399.10L76.85 397.86L77.79 396.59L78.73 395.29L79.68 393.97L80.62 392.63L81.56 391.27L82.50 389.90L83.45 388.51L84.39 387.12L85.33 385.73L86.28 384.33L87.22 382.94L88.16 381.55L89.10 380.17L90.05 378.80L90.99 377.45L91.93 376.12L92.88 374.80L93.82 373.50L94.76 372.23L95.70 370.98L96.65 369.75L97.59 368.54L98.53 367.36L99.48 366.20L100.42 365.06L101.36 363.95L102.30 362.87L103.25 361.81L104.19 360.78L105.13 359.78L106.07 358.81L107.02 357.88L107.96 356.99L108.90 356.13L109.85 355.33L110.79 354.58L111.73 353.88L112.67 353.24L113.62 352.66L114.56 352.15L115.50 351.72L116.45 351.36L117.39 351.08L118.33 350.88L119.27 350.76L120.22 350.72L121.16 350.77L122.10 350.89L123.04 351.10L123.99 351.38L124.93 351.75L125.87 352.19L126.82 352.70L127.76 353.28L128.70 353.93L129.64 354.65L130.59 355.44L131.53 356.28L132.47 357.18L133.42 358.13L134.36 359.14L135.30 360.19L136.24 361.28L137.19 362.41L138.13 363.58L139.07 364.79L140.01 366.03L140.96 367.31L141.90 368.61L142.84 369.95L143.79 371.30L144.73 372.69L145.67 374.09L146.61 375.52L147.56 376.96L148.50 378.41L149.44 379.88L150.39 381.36L151.33 382.84L152.27 384.32L153.21 385.81L154.16 387.29L155.10 388.76L156.04 390.23L156.99 391.69L157.93 393.13L158.87 394.56L159.81 395.97L160.76 397.35L161.70 398.71L162.64 400.04L163.58 401.33L164.53 402.60L165.47 403.82L166.41 405.01L167.36 406.15L168.30 407.25L169.24 408.31L170.18 409.32L171.13 410.30L172.07 411.24L173.01 412.14L173.96 413.01L174.90 413.84L175.84 414.64L176.78 415.40L177.73 416.14L178.67 416.84L179.61 417.52L180.55 418.17L181.50 418.79L182.44 419.38L183.38 419.96L184.33 420.51L185.27 421.03L186.21 421.54L187.15 422.03L188.10 422.50L189.04 422.95L189.98 423.38L190.93 423.80L191.87 424.21L192.81 424.61L193.75 424.99L194.70 425.37L195.64 425.73L196.58 426.09L197.53 426.44L198.47 426.78L199.41 427.12L200.35 427.45L201.30 427.77L202.24 428.08L203.18 428.39L204.12 428.70L205.07 428.99L206.01 429.28L206.95 429.57L207.90 429.84L208.84 430.12L209.78 430.38L210.72 430.64L211.67 430.89L212.61 431.14L213.55 431.38L214.50 431.62L215.44 431.85L216.38 432.08L217.32 432.30L218.27 432.52L219.21 432.73L220.15 432.93L221.09 433.13L222.04 433.33L222.98 433.52L223.92 433.71L224.87 433.89L225.81 434.07L226.75 434.24L227.69 434.41L228.64 434.58L229.58 434.74L230.52 434.90L231.47 435.05L232.41 435.20L233.35 435.35L234.29 435.49L235.24 435.63L236.18 435.76L237.12 435.89L238.06 436.02L239.01 436.15L239.95 436.27L240.89 436.39L241.84 436.51L242.78 436.62L243.72 436.74L244.66 436.85L245.61 436.95L246.55 437.06L247.49 437.16L248.44 437.26L249.38 437.36L250.32 437.45L251.26 437.55L252.21 437.64L253.15 437.73L254.09 437.82L255.04 437.90L255.98 437.99L256.92 438.07L257.86 438.16L258.81 438.24L259.75 438.32L260.69 438.40L261.63 438.48L262.58 438.56L263.52 438.63L264.46 438.71L265.41 438.79L266.35 438.86L267.29 438.94L268.23 439.01L269.18 439.09L270.12 439.16L271.06 439.24L272.01 439.31L272.95 439.39L273.89 439.47L274.83 439.55L275.78 439.64L276.72 439.73L277.66 439.83L278.60 439.93L279.55 440.04L280.49 440.16L281.43 440.28L282.38 440.42L283.32 440.56L284.26 440.71L285.20 440.88L286.15 441.06L287.09 441.25L288.03 441.45L288.98 441.67L289.92 441.90L290.86 442.15L291.80 442.42L292.75 442.70L293.69 443.00L294.63 443.32L295.58 443.66L296.52 444.02L297.46 444.40L298.40 444.80L299.35 445.22L300.29 445.67L301.23 446.14L302.17 446.63L303.12 447.15L304.06 447.70L305.00 448.27L305.95 448.88L306.89 449.50L307.83 450.16L308.77 450.85L309.72 451.57L310.66 452.32L311.60 453.10L312.55 453.92L313.49 454.77L314.43 455.65L315.37 456.57L316.32 457.52L317.26 458.52L318.20 459.55L319.14 460.63L320.09 461.76L321.03 462.94L321.97 464.17L322.92 465.46L323.86 466.81L324.80 468.21L325.74 469.69L326.69 471.22L327.63 472.83L328.57 474.51L329.52 476.27L330.46 478.10L331.40 480.01L332.34 482.01L333.29 484.09L334.23 486.27L335.17 488.53L336.11 490.89L337.06 493.34L338.00 495.90L338.94 498.56L339.89 501.32L340.83 504.19L341.77 507.17L342.71 510.27L343.66 513.48L344.60 516.81" fill="none" stroke="#22b022" stroke-width="1.1" stroke-linejoin="round"/>
</g>
<g clip-path="url(#cc)">
<rect x="40.05" y="624.51" width="4.70" height="4.70" fill="#3b3b3b"/>
<rect x="47.39" y="638.74" width="4.70" height="4.70" fill="#3b3b3b"/>
<rect x="54.73" y="649.19" width="4.70" height="4.70" fill="#3b3b3b"/>
<rect x="62.07" y="658.45" width="4.70" height="4.70" fill="#3b3b3b"/>
<rect x="69.41" y="667.40" width="4.70" height="4.70" fill="#3b3b3b"/>
<rect x="76.75" y="676.75" width="4.70" height="4.70" fill="#3b3b3b"/>
<rect x="84.09" y="688.29" width="4.70" height="4.70" fill="#3b3b3b"/>
<rect x="91.43" y="701.92" width="4.70" height="4.70" fill="#3b3b3b"/>
<rect x="98.77" y="718.43" width="4.70" height="4.70" fill="#3b3b3b"/>
<rect x="106.11" y="736.32" width="4.70" height="4.70" fill="#3b3b3b"/>
<rect x="113.45" y="752.04" width="4.70" height="4.70" fill="#3b3b3b"/>
<rect x="120.79" y="765.22" width="4.70" height="4.70" fill="#3b3b3b"/>
<rect x="128.13" y="776.33" width="4.70" height="4.70" fill="#3b3b3b"/>
<rect x="135.47" y="783.30" width="4.70" height="4.70" fill="#3b3b3b"/>
<rect x="142.81" y="788.71" width="4.70" height="4.70" fill="#3b3b3b"/>
<rect x="150.15" y="792.34" width="4.70" height="4.70" fill="#3b3b3b"/>
<rect x="157.49" y="794.62" width="4.70" height="4.70" fill="#3b3b3b"/>
<rect x="164.83" y="796.00" width="4.70" height="4.70" fill="#3b3b3b"/>
<rect x="172.17" y="796.42" width="4.70" height="4.70" fill="#3b3b3b"/>
<rect x="179.51" y="796.62" width="4.70" height="4.70" fill="#3b3b3b"/>
<rect x="186.85" y="796.76" width="4.70" height="4.70" fill="#3b3b3b"/>
<rect x="194.19" y="796.83" width="4.70" height="4.70" fill="#3b3b3b"/>
<rect x="201.53" y="796.86" width="4.70" height="4.70" fill="#3b3b3b"/>
<rect x="208.87" y="796.89" width="4.70" height="4.70" fill="#3b3b3b"/>
<rect x="216.21" y="796.91" width="4.70" height="4.70" fill="#3b3b3b"/>
<rect x="223.55" y="796.93" width="4.70" height="4.70" fill="#3b3b3b"/>
<rect x="230.89" y="796.94" width="4.70" height="4.70" fill="#3b3b3b"/>
<rect x="238.23" y="796.95" width="4.70" height="4.70" fill="#3b3b3b"/>
<rect x="245.57" y="796.95" width="4.70" height="4.70" fill="#3b3b3b"/>
<rect x="252.91" y="796.95" width="4.70" height="4.70" fill="#3b3b3b"/>
<rect x="260.25" y="796.95" width="4.70" height="4.70" fill="#3b3b3b"/>
<rect x="267.59" y="796.95" width="4.70" height="4.70" fill="#3b3b3b"/>
<rect x="274.93" y="796.95" width="4.70" height="4.70" fill="#3b3b3b"/>
<rect x="282.27" y="796.95" width="4.70" height="4.70" fill="#3b3b3b"/>
<rect x="289.61" y="796.95" width="4.70" height="4.70" fill="#3b3b3b"/>
<rect x="296.95" y="796.95" width="4.70" height="4.70" fill="#3b3b3b"/>
<rect x="304.29" y="796.95" width="4.70" height="4.70" fill="#3b3b3b"/>
<rect x="311.63" y="796.95" width="4.70" height="4.70" fill="#3b3b3b"/>
<rect x="318.97" y="796.95" width="4.70" height="4.70" fill="#3b3b3b"/>
<rect x="326.31" y="796.67" width="4.70" height="4.70" fill="#3b3b3b"/>
<rect x="333.65" y="795.60" width="4.70" height="4.70" fill="#3b3b3b"/>
<rect x="340.99" y="793.54" width="4.70" height="4.70" fill="#3b3b3b"/>
<circle cx="42.40" cy="711.76" r="2.75" fill="#ee3a3a"/>
<circle cx="49.74" cy="717.19" r="2.75" fill="#ee3a3a"/>
<circle cx="57.08" cy="723.45" r="2.75" fill="#ee3a3a"/>
<circle cx="64.42" cy="729.53" r="2.75" fill="#ee3a3a"/>
<circle cx="71.76" cy="734.10" r="2.75" fill="#ee3a3a"/>
<circle cx="79.10" cy="739.08" r="2.75" fill="#ee3a3a"/>
<circle cx="86.44" cy="745.37" r="2.75" fill="#ee3a3a"/>
<circle cx="93.78" cy="751.30" r="2.75" fill="#ee3a3a"/>
<circle cx="101.12" cy="757.12" r="2.75" fill="#ee3a3a"/>
<circle cx="108.46" cy="766.13" r="2.75" fill="#ee3a3a"/>
<circle cx="115.80" cy="774.20" r="2.75" fill="#ee3a3a"/>
<circle cx="123.14" cy="781.12" r="2.75" fill="#ee3a3a"/>
<circle cx="130.48" cy="787.11" r="2.75" fill="#ee3a3a"/>
<circle cx="137.82" cy="791.42" r="2.75" fill="#ee3a3a"/>
<circle cx="145.16" cy="793.71" r="2.75" fill="#ee3a3a"/>
<circle cx="152.50" cy="794.86" r="2.75" fill="#ee3a3a"/>
<circle cx="159.84" cy="795.01" r="2.75" fill="#ee3a3a"/>
<circle cx="167.18" cy="795.60" r="2.75" fill="#ee3a3a"/>
<circle cx="174.52" cy="795.78" r="2.75" fill="#ee3a3a"/>
<circle cx="181.86" cy="795.89" r="2.75" fill="#ee3a3a"/>
<circle cx="189.20" cy="795.96" r="2.75" fill="#ee3a3a"/>
<circle cx="196.54" cy="796.00" r="2.75" fill="#ee3a3a"/>
<circle cx="203.88" cy="796.00" r="2.75" fill="#ee3a3a"/>
<circle cx="211.22" cy="796.00" r="2.75" fill="#ee3a3a"/>
<circle cx="218.56" cy="796.00" r="2.75" fill="#ee3a3a"/>
<circle cx="225.90" cy="796.00" r="2.75" fill="#ee3a3a"/>
<circle cx="233.24" cy="796.00" r="2.75" fill="#ee3a3a"/>
<circle cx="240.58" cy="796.00" r="2.75" fill="#ee3a3a"/>
<circle cx="247.92" cy="796.00" r="2.75" fill="#ee3a3a"/>
<circle cx="255.26" cy="796.00" r="2.75" fill="#ee3a3a"/>
<circle cx="262.60" cy="796.00" r="2.75" fill="#ee3a3a"/>
<circle cx="269.94" cy="796.00" r="2.75" fill="#ee3a3a"/>
<circle cx="277.28" cy="796.00" r="2.75" fill="#ee3a3a"/>
<circle cx="284.62" cy="796.00" r="2.75" fill="#ee3a3a"/>
<circle cx="291.96" cy="796.00" r="2.75" fill="#ee3a3a"/>
<circle cx="299.30" cy="796.00" r="2.75" fill="#ee3a3a"/>
<circle cx="306.64" cy="795.99" r="2.75" fill="#ee3a3a"/>
<circle cx="313.98" cy="795.93" r="2.75" fill="#ee3a3a"/>
<circle cx="321.32" cy="795.84" r="2.75" fill="#ee3a3a"/>
<circle cx="328.66" cy="795.52" r="2.75" fill="#ee3a3a"/>
<circle cx="336.00" cy="793.09" r="2.75" fill="#ee3a3a"/>
<circle cx="343.34" cy="791.30" r="2.75" fill="#ee3a3a"/>
<path d="M42.40 715.11L45.60 720.51L39.20 720.51Z" fill="#1f62e8"/>
<path d="M49.74 719.58L52.94 724.98L46.54 724.98Z" fill="#1f62e8"/>
<path d="M57.08 726.12L60.28 731.52L53.88 731.52Z" fill="#1f62e8"/>
<path d="M64.42 729.96L67.62 735.36L61.22 735.36Z" fill="#1f62e8"/>
<path d="M71.76 733.58L74.96 738.98L68.56 738.98Z" fill="#1f62e8"/>
<path d="M79.10 737.15L82.30 742.55L75.90 742.55Z" fill="#1f62e8"/>
<path d="M86.44 741.31L89.64 746.71L83.24 746.71Z" fill="#1f62e8"/>
<path d="M93.78 747.61L96.98 753.01L90.58 753.01Z" fill="#1f62e8"/>
<path d="M101.12 753.41L104.32 758.81L97.92 758.81Z" fill="#1f62e8"/>
<path d="M108.46 760.82L111.66 766.22L105.26 766.22Z" fill="#1f62e8"/>
<path d="M115.80 769.92L119.00 775.32L112.60 775.32Z" fill="#1f62e8"/>
<path d="M123.14 777.44L126.34 782.84L119.94 782.84Z" fill="#1f62e8"/>
<path d="M130.48 784.44L133.68 789.84L127.28 789.84Z" fill="#1f62e8"/>
<path d="M137.82 788.75L141.02 794.15L134.62 794.15Z" fill="#1f62e8"/>
<path d="M145.16 792.35L148.36 797.75L141.96 797.75Z" fill="#1f62e8"/>
<path d="M152.50 794.40L155.70 799.80L149.30 799.80Z" fill="#1f62e8"/>
<path d="M159.84 795.32L163.04 800.72L156.64 800.72Z" fill="#1f62e8"/>
<path d="M167.18 795.82L170.38 801.22L163.98 801.22Z" fill="#1f62e8"/>
<path d="M174.52 795.95L177.72 801.35L171.32 801.35Z" fill="#1f62e8"/>
<path d="M181.86 796.02L185.06 801.42L178.66 801.42Z" fill="#1f62e8"/>
<path d="M189.20 796.06L192.40 801.46L186.00 801.46Z" fill="#1f62e8"/>
<path d="M196.54 796.09L199.74 801.49L193.34 801.49Z" fill="#1f62e8"/>
<path d="M203.88 796.11L207.08 801.51L200.68 801.51Z" fill="#1f62e8"/>
<path d="M211.22 796.13L214.42 801.53L208.02 801.53Z" fill="#1f62e8"/>
<path d="M218.56 796.15L221.76 801.55L215.36 801.55Z" fill="#1f62e8"/>
<path d="M225.90 796.17L229.10 801.57L222.70 801.57Z" fill="#1f62e8"/>
<path d="M233.24 796.19L236.44 801.59L230.04 801.59Z" fill="#1f62e8"/>
<path d="M240.58 796.20L243.78 801.60L237.38 801.60Z" fill="#1f62e8"/>
<path d="M247.92 796.20L251.12 801.60L244.72 801.60Z" fill="#1f62e8"/>
<path d="M255.26 796.20L258.46 801.60L252.06 801.60Z" fill="#1f62e8"/>
<path d="M262.60 796.20L265.80 801.60L259.40 801.60Z" fill="#1f62e8"/>
<path d="M269.94 796.20L273.14 801.60L266.74 801.60Z" fill="#1f62e8"/>
<path d="M277.28 796.20L280.48 801.60L274.08 801.60Z" fill="#1f62e8"/>
<path d="M284.62 796.20L287.82 801.60L281.42 801.60Z" fill="#1f62e8"/>
<path d="M291.96 796.20L295.16 801.60L288.76 801.60Z" fill="#1f62e8"/>
<path d="M299.30 796.20L302.50 801.60L296.10 801.60Z" fill="#1f62e8"/>
<path d="M306.64 796.19L309.84 801.59L303.44 801.59Z" fill="#1f62e8"/>
<path d="M313.98 796.13L317.18 801.53L310.78 801.53Z" fill="#1f62e8"/>
<path d="M321.32 796.04L324.52 801.44L318.12 801.44Z" fill="#1f62e8"/>
<path d="M328.66 795.72L331.86 801.12L325.46 801.12Z" fill="#1f62e8"/>
<path d="M336.00 794.81L339.20 800.21L332.80 800.21Z" fill="#1f62e8"/>
<path d="M343.34 793.21L346.54 798.61L340.14 798.61Z" fill="#1f62e8"/>
<path d="M39.20 693.48L45.60 693.48L42.40 698.88Z" fill="#229e55"/>
<path d="M46.54 700.81L52.94 700.81L49.74 706.21Z" fill="#229e55"/>
<path d="M53.88 706.79L60.28 706.79L57.08 712.19Z" fill="#229e55"/>
<path d="M61.22 716.78L67.62 716.78L64.42 722.18Z" fill="#229e55"/>
<path d="M68.56 724.66L74.96 724.66L71.76 730.06Z" fill="#229e55"/>
<path d="M75.90 731.39L82.30 731.39L79.10 736.79Z" fill="#229e55"/>
<path d="M83.24 737.66L89.64 737.66L86.44 743.06Z" fill="#229e55"/>
<path d="M90.58 743.63L96.98 743.63L93.78 749.03Z" fill="#229e55"/>
<path d="M97.92 750.42L104.32 750.42L101.12 755.82Z" fill="#229e55"/>
<path d="M105.26 758.80L111.66 758.80L108.46 764.20Z" fill="#229e55"/>
<path d="M112.60 766.51L119.00 766.51L115.80 771.91Z" fill="#229e55"/>
<path d="M119.94 774.45L126.34 774.45L123.14 779.85Z" fill="#229e55"/>
<path d="M127.28 782.10L133.68 782.10L130.48 787.50Z" fill="#229e55"/>
<path d="M134.62 787.88L141.02 787.88L137.82 793.28Z" fill="#229e55"/>
<path d="M141.96 793.28L148.36 793.28L145.16 798.68Z" fill="#229e55"/>
<path d="M149.30 796.91L155.70 796.91L152.50 802.31Z" fill="#229e55"/>
<path d="M156.64 799.07L163.04 799.07L159.84 804.47Z" fill="#229e55"/>
<path d="M163.98 799.78L170.38 799.78L167.18 805.18Z" fill="#229e55"/>
<path d="M171.32 800.01L177.72 800.01L174.52 805.41Z" fill="#229e55"/>
<path d="M178.66 800.14L185.06 800.14L181.86 805.54Z" fill="#229e55"/>
<path d="M186.00 800.23L192.40 800.23L189.20 805.63Z" fill="#229e55"/>
<path d="M193.34 800.28L199.74 800.28L196.54 805.68Z" fill="#229e55"/>
<path d="M200.68 800.31L207.08 800.31L203.88 805.71Z" fill="#229e55"/>
<path d="M208.02 800.34L214.42 800.34L211.22 805.74Z" fill="#229e55"/>
<path d="M215.36 800.36L221.76 800.36L218.56 805.76Z" fill="#229e55"/>
<path d="M222.70 800.38L229.10 800.38L225.90 805.78Z" fill="#229e55"/>
<path d="M230.04 800.39L236.44 800.39L233.24 805.79Z" fill="#229e55"/>
<path d="M237.38 800.40L243.78 800.40L240.58 805.80Z" fill="#229e55"/>
<path d="M244.72 800.40L251.12 800.40L247.92 805.80Z" fill="#229e55"/>
<path d="M252.06 800.40L258.46 800.40L255.26 805.80Z" fill="#229e55"/>
<path d="M259.40 800.40L265.80 800.40L262.60 805.80Z" fill="#229e55"/>
<path d="M266.74 800.40L273.14 800.40L269.94 805.80Z" fill="#229e55"/>
<path d="M274.08 800.40L280.48 800.40L277.28 805.80Z" fill="#229e55"/>
<path d="M281.42 800.40L287.82 800.40L284.62 805.80Z" fill="#229e55"/>
<path d="M288.76 800.40L295.16 800.40L291.96 805.80Z" fill="#229e55"/>
<path d="M296.10 800.40L302.50 800.40L299.30 805.80Z" fill="#229e55"/>
<path d="M303.44 800.39L309.84 800.39L306.64 805.79Z" fill="#229e55"/>
<path d="M310.78 800.37L317.18 800.37L313.98 805.77Z" fill="#229e55"/>
<path d="M318.12 800.32L324.52 800.32L321.32 805.72Z" fill="#229e55"/>
<path d="M325.46 799.93L331.86 799.93L328.66 805.33Z" fill="#229e55"/>
<path d="M332.80 798.75L339.20 798.75L336.00 804.15Z" fill="#229e55"/>
<path d="M340.14 797.01L346.54 797.01L343.34 802.41Z" fill="#229e55"/>
<path d="M64.06 664.70L64.99 665.12L65.93 665.55L66.86 666.00L67.79 666.47L68.73 666.97L69.66 667.48L70.59 668.03L71.52 668.59L72.46 669.45L73.39 670.67L74.32 671.93L75.26 673.22L76.19 674.54L77.12 675.90L78.05 677.30L78.99 678.73L79.92 680.20L80.85 681.72L81.79 683.26L82.72 684.84L83.65 686.46L84.58 688.11L85.52 689.79L86.45 691.51L87.38 693.25L88.32 695.02L89.25 696.82L90.18 698.65L91.12 700.50L92.05 702.37L92.98 704.27L93.91 706.19L94.85 708.13L95.78 710.09L96.71 712.07L97.65 714.07L98.58 716.08L99.51 718.11L100.44 720.15L101.38 722.21L102.31 724.28L103.24 726.35L104.18 728.43L105.11 730.52L106.04 732.60L106.97 734.68L107.91 736.75L108.84 738.82L109.77 740.87L110.71 742.91L111.64 744.93L112.57 746.92L113.51 748.90L114.44 750.84L115.37 752.76L116.30 754.65L117.24 756.50L118.17 758.31L119.10 760.08L120.04 761.80L120.97 763.48L121.90 765.11L122.83 766.69L123.77 768.21L124.70 769.67L125.63 771.08L126.57 772.44L127.50 773.74L128.43 775.00L129.36 776.21L130.30 777.38L131.23 778.50L132.16 779.58L133.10 780.61L134.03 781.61L134.96 782.57L135.89 783.50L136.83 784.39L137.76 785.25L138.69 786.08L139.63 786.87L140.56 787.64L141.49 788.38L142.43 789.09L143.36 789.77L144.29 790.43L145.22 791.06L146.16 791.66L147.09 792.23L148.02 792.78L148.96 793.31L149.89 793.81L150.82 794.28L151.75 794.74L152.69 795.17L153.62 795.57L154.55 795.96L155.49 796.32L156.42 796.67L157.35 796.99L158.28 797.29L159.22 797.58L160.15 797.84L161.08 798.09L162.02 798.32L162.95 798.53L163.88 798.72L164.81 798.90L165.75 799.06L166.68 799.21L167.61 799.34L168.55 799.46L169.48 799.56L170.41 799.65L171.35 799.73L172.28 799.80L173.21 799.85L174.14 799.89L175.08 799.92L176.01 799.95L176.94 799.96L177.88 799.96L178.81 799.96L179.74 799.94L180.67 799.92L181.61 799.89L182.54 799.86L183.47 799.81L184.41 799.77L185.34 799.71L186.27 799.66L187.20 799.60L188.14 799.53L189.07 799.46L190.00 799.39L190.94 799.32L191.87 799.25L192.80 799.17L193.73 799.10L194.67 799.02L195.60 798.95L196.53 798.87L197.47 798.80L198.40 798.73L199.33 798.66L200.27 798.60L201.20 798.54L202.13 798.48L203.06 798.43L204.00 798.37L204.93 798.33L205.86 798.28L206.80 798.24L207.73 798.20L208.66 798.16L209.59 798.13L210.53 798.10L211.46 798.07L212.39 798.05L213.33 798.02L214.26 798.00L215.19 797.99L216.12 797.97L217.06 797.96L217.99 797.95L218.92 797.94L219.86 797.94L220.79 797.94L221.72 797.94L222.66 797.94L223.59 797.94L224.52 797.95L225.45 797.96L226.39 797.97L227.32 797.98L228.25 797.99L229.19 798.01L230.12 798.02L231.05 798.04L231.98 798.06L232.92 798.08L233.85 798.11L234.78 798.13L235.72 798.16L236.65 798.18L237.58 798.21L238.51 798.24L239.45 798.27L240.38 798.31L241.31 798.34L242.25 798.37L243.18 798.41L244.11 798.44L245.04 798.48L245.98 798.52L246.91 798.56L247.84 798.60L248.78 798.64L249.71 798.68L250.64 798.72L251.58 798.76L252.51 798.80L253.44 798.84L254.37 798.89L255.31 798.93L256.24 798.97L257.17 799.01L258.11 799.06L259.04 799.10L259.97 799.14L260.90 799.19L261.84 799.23L262.77 799.27L263.70 799.31L264.64 799.36L265.57 799.40L266.50 799.44L267.43 799.48L268.37 799.52L269.30 799.56L270.23 799.60L271.17 799.64L272.10 799.68L273.03 799.71L273.96 799.75L274.90 799.79L275.83 799.82L276.76 799.85L277.70 799.89L278.63 799.92L279.56 799.95L280.50 799.98L281.43 800.00L282.36 800.03L283.29 800.06L284.23 800.08L285.16 800.10L286.09 800.12L287.03 800.14L287.96 800.16L288.89 800.17L289.82 800.19L290.76 800.20L291.69 800.21L292.62 800.22L293.56 800.22L294.49 800.23L295.42 800.23L296.35 800.23L297.29 800.23L298.22 800.22L299.15 800.22L300.09 800.21L301.02 800.20L301.95 800.18L302.89 800.17L303.82 800.15L304.75 800.13L305.68 800.10L306.62 800.07L307.55 800.04L308.48 800.01L309.42 799.98L310.35 799.94L311.28 799.90L312.21 799.85L313.15 799.80L314.08 799.75L315.01 799.70L315.95 799.64L316.88 799.58L317.81 799.52L318.74 799.45L319.68 799.38L320.61 799.30L321.54 799.23L322.48 799.14L323.41 799.06L324.34 798.97L325.27 798.88L326.21 798.78L327.14 798.68L328.07 798.57L329.01 798.46L329.94 798.35L330.87 798.23L331.81 798.11L332.74 797.99L333.67 797.86L334.60 797.72L335.54 797.59L336.47 797.44L337.40 797.29L338.34 797.14L339.27 796.99L340.20 796.82L341.13 796.66L342.07 796.49L343.00 796.31" fill="none" stroke="#1a1a1a" stroke-width="1.1" stroke-linejoin="round"/>
<path d="M64.06 731.00L64.99 731.22L65.93 731.46L66.86 731.71L67.79 731.98L68.73 732.26L69.66 732.56L70.59 732.86L71.52 733.19L72.46 733.66L73.39 734.34L74.32 735.03L75.26 735.73L76.19 736.45L77.12 737.18L78.05 737.92L78.99 738.67L79.92 739.43L80.85 740.20L81.79 740.99L82.72 741.78L83.65 742.59L84.58 743.41L85.52 744.23L86.45 745.07L87.38 745.92L88.32 746.77L89.25 747.64L90.18 748.51L91.12 749.39L92.05 750.29L92.98 751.18L93.91 752.09L94.85 753.01L95.78 753.93L96.71 754.86L97.65 755.79L98.58 756.73L99.51 757.67L100.44 758.61L101.38 759.56L102.31 760.51L103.24 761.46L104.18 762.41L105.11 763.36L106.04 764.31L106.97 765.26L107.91 766.20L108.84 767.14L109.77 768.08L110.71 769.01L111.64 769.93L112.57 770.85L113.51 771.77L114.44 772.67L115.37 773.57L116.30 774.45L117.24 775.33L118.17 776.19L119.10 777.05L120.04 777.89L120.97 778.72L121.90 779.53L122.83 780.33L123.77 781.12L124.70 781.89L125.63 782.64L126.57 783.38L127.50 784.09L128.43 784.79L129.36 785.47L130.30 786.13L131.23 786.77L132.16 787.38L133.10 787.98L134.03 788.56L134.96 789.12L135.89 789.66L136.83 790.18L137.76 790.69L138.69 791.18L139.63 791.64L140.56 792.10L141.49 792.53L142.43 792.95L143.36 793.35L144.29 793.73L145.22 794.10L146.16 794.46L147.09 794.80L148.02 795.12L148.96 795.43L149.89 795.72L150.82 796.00L151.75 796.27L152.69 796.52L153.62 796.76L154.55 796.99L155.49 797.20L156.42 797.41L157.35 797.60L158.28 797.78L159.22 797.94L160.15 798.10L161.08 798.25L162.02 798.38L162.95 798.51L163.88 798.62L164.81 798.73L165.75 798.82L166.68 798.91L167.61 798.99L168.55 799.06L169.48 799.12L170.41 799.17L171.35 799.22L172.28 799.26L173.21 799.29L174.14 799.32L175.08 799.34L176.01 799.35L176.94 799.36L177.88 799.36L178.81 799.36L179.74 799.35L180.67 799.34L181.61 799.33L182.54 799.31L183.47 799.28L184.41 799.25L185.34 799.22L186.27 799.19L187.20 799.16L188.14 799.12L189.07 799.08L190.00 799.04L190.94 799.00L191.87 798.95L192.80 798.91L193.73 798.87L194.67 798.82L195.60 798.78L196.53 798.74L197.47 798.69L198.40 798.65L199.33 798.61L200.27 798.57L201.20 798.54L202.13 798.50L203.06 798.47L204.00 798.44L204.93 798.41L205.86 798.39L206.80 798.36L207.73 798.34L208.66 798.32L209.59 798.30L210.53 798.28L211.46 798.26L212.39 798.24L213.33 798.23L214.26 798.22L215.19 798.21L216.12 798.20L217.06 798.19L217.99 798.18L218.92 798.18L219.86 798.17L220.79 798.17L221.72 798.17L222.66 798.17L223.59 798.17L224.52 798.17L225.45 798.17L226.39 798.18L227.32 798.18L228.25 798.19L229.19 798.19L230.12 798.20L231.05 798.21L231.98 798.22L232.92 798.23L233.85 798.24L234.78 798.25L235.72 798.26L236.65 798.28L237.58 798.29L238.51 798.31L239.45 798.32L240.38 798.34L241.31 798.35L242.25 798.37L243.18 798.39L244.11 798.40L245.04 798.42L245.98 798.44L246.91 798.46L247.84 798.48L248.78 798.50L249.71 798.52L250.64 798.54L251.58 798.56L252.51 798.58L253.44 798.60L254.37 798.62L255.31 798.64L256.24 798.66L257.17 798.68L258.11 798.70L259.04 798.72L259.97 798.74L260.90 798.76L261.84 798.78L262.77 798.80L263.70 798.82L264.64 798.83L265.57 798.85L266.50 798.87L267.43 798.89L268.37 798.91L269.30 798.92L270.23 798.94L271.17 798.95L272.10 798.97L273.03 798.98L273.96 799.00L274.90 799.01L275.83 799.02L276.76 799.04L277.70 799.05L278.63 799.06L279.56 799.07L280.50 799.08L281.43 799.08L282.36 799.09L283.29 799.10L284.23 799.10L285.16 799.11L286.09 799.11L287.03 799.11L287.96 799.11L288.89 799.11L289.82 799.11L290.76 799.11L291.69 799.10L292.62 799.10L293.56 799.09L294.49 799.08L295.42 799.07L296.35 799.06L297.29 799.05L298.22 799.04L299.15 799.02L300.09 799.01L301.02 798.99L301.95 798.97L302.89 798.95L303.82 798.92L304.75 798.90L305.68 798.87L306.62 798.84L307.55 798.81L308.48 798.78L309.42 798.75L310.35 798.71L311.28 798.67L312.21 798.64L313.15 798.59L314.08 798.55L315.01 798.50L315.95 798.46L316.88 798.41L317.81 798.35L318.74 798.30L319.68 798.24L320.61 798.18L321.54 798.12L322.48 798.06L323.41 797.99L324.34 797.93L325.27 797.86L326.21 797.78L327.14 797.71L328.07 797.63L329.01 797.55L329.94 797.47L330.87 797.38L331.81 797.29L332.74 797.20L333.67 797.11L334.60 797.01L335.54 796.91L336.47 796.81L337.40 796.70L338.34 796.60L339.27 796.48L340.20 796.37L341.13 796.25L342.07 796.13L343.00 796.01" fill="none" stroke="#f01e1e" stroke-width="1.1" stroke-linejoin="round"/>
<path d="M64.06 734.00L64.99 734.08L65.93 734.18L66.86 734.29L67.79 734.42L68.73 734.57L69.66 734.73L70.59 734.91L71.52 735.10L72.46 735.42L73.39 735.90L74.32 736.39L75.26 736.91L76.19 737.44L77.12 737.98L78.05 738.54L78.99 739.12L79.92 739.71L80.85 740.32L81.79 740.95L82.72 741.59L83.65 742.25L84.58 742.92L85.52 743.61L86.45 744.32L87.38 745.04L88.32 745.78L89.25 746.54L90.18 747.31L91.12 748.10L92.05 748.91L92.98 749.73L93.91 750.57L94.85 751.43L95.78 752.30L96.71 753.18L97.65 754.08L98.58 754.99L99.51 755.90L100.44 756.83L101.38 757.77L102.31 758.72L103.24 759.67L104.18 760.63L105.11 761.60L106.04 762.56L106.97 763.54L107.91 764.51L108.84 765.48L109.77 766.46L110.71 767.43L111.64 768.40L112.57 769.37L113.51 770.33L114.44 771.29L115.37 772.24L116.30 773.18L117.24 774.12L118.17 775.04L119.10 775.96L120.04 776.86L120.97 777.76L121.90 778.64L122.83 779.50L123.77 780.35L124.70 781.18L125.63 782.00L126.57 782.80L127.50 783.58L128.43 784.34L129.36 785.07L130.30 785.79L131.23 786.48L132.16 787.15L133.10 787.80L134.03 788.42L134.96 789.03L135.89 789.61L136.83 790.18L137.76 790.72L138.69 791.25L139.63 791.75L140.56 792.24L141.49 792.71L142.43 793.16L143.36 793.59L144.29 794.00L145.22 794.40L146.16 794.78L147.09 795.14L148.02 795.48L148.96 795.81L149.89 796.13L150.82 796.42L151.75 796.71L152.69 796.98L153.62 797.23L154.55 797.47L155.49 797.70L156.42 797.91L157.35 798.11L158.28 798.29L159.22 798.47L160.15 798.63L161.08 798.78L162.02 798.92L162.95 799.05L163.88 799.16L164.81 799.27L165.75 799.37L166.68 799.45L167.61 799.53L168.55 799.60L169.48 799.65L170.41 799.70L171.35 799.75L172.28 799.78L173.21 799.81L174.14 799.83L175.08 799.84L176.01 799.84L176.94 799.84L177.88 799.84L178.81 799.83L179.74 799.81L180.67 799.79L181.61 799.76L182.54 799.73L183.47 799.70L184.41 799.66L185.34 799.62L186.27 799.58L187.20 799.53L188.14 799.48L189.07 799.43L190.00 799.38L190.94 799.32L191.87 799.27L192.80 799.21L193.73 799.16L194.67 799.10L195.60 799.05L196.53 799.00L197.47 798.94L198.40 798.89L199.33 798.84L200.27 798.79L201.20 798.75L202.13 798.71L203.06 798.66L204.00 798.63L204.93 798.59L205.86 798.55L206.80 798.52L207.73 798.49L208.66 798.46L209.59 798.44L210.53 798.41L211.46 798.39L212.39 798.37L213.33 798.35L214.26 798.33L215.19 798.32L216.12 798.30L217.06 798.29L217.99 798.28L218.92 798.27L219.86 798.27L220.79 798.26L221.72 798.26L222.66 798.25L223.59 798.25L224.52 798.25L225.45 798.25L226.39 798.26L227.32 798.26L228.25 798.26L229.19 798.27L230.12 798.28L231.05 798.29L231.98 798.30L232.92 798.31L233.85 798.32L234.78 798.33L235.72 798.34L236.65 798.36L237.58 798.37L238.51 798.39L239.45 798.41L240.38 798.42L241.31 798.44L242.25 798.46L243.18 798.48L244.11 798.50L245.04 798.52L245.98 798.54L246.91 798.56L247.84 798.58L248.78 798.61L249.71 798.63L250.64 798.65L251.58 798.68L252.51 798.70L253.44 798.72L254.37 798.75L255.31 798.77L256.24 798.80L257.17 798.82L258.11 798.84L259.04 798.87L259.97 798.89L260.90 798.92L261.84 798.94L262.77 798.96L263.70 798.99L264.64 799.01L265.57 799.03L266.50 799.06L267.43 799.08L268.37 799.10L269.30 799.12L270.23 799.15L271.17 799.17L272.10 799.19L273.03 799.21L273.96 799.23L274.90 799.24L275.83 799.26L276.76 799.28L277.70 799.30L278.63 799.31L279.56 799.33L280.50 799.34L281.43 799.35L282.36 799.36L283.29 799.38L284.23 799.39L285.16 799.39L286.09 799.40L287.03 799.41L287.96 799.41L288.89 799.42L289.82 799.42L290.76 799.42L291.69 799.42L292.62 799.42L293.56 799.42L294.49 799.42L295.42 799.41L296.35 799.41L297.29 799.40L298.22 799.39L299.15 799.38L300.09 799.37L301.02 799.35L301.95 799.33L302.89 799.32L303.82 799.30L304.75 799.27L305.68 799.25L306.62 799.23L307.55 799.20L308.48 799.17L309.42 799.14L310.35 799.10L311.28 799.07L312.21 799.03L313.15 798.99L314.08 798.95L315.01 798.91L315.95 798.86L316.88 798.81L317.81 798.76L318.74 798.71L319.68 798.65L320.61 798.59L321.54 798.53L322.48 798.47L323.41 798.40L324.34 798.33L325.27 798.26L326.21 798.19L327.14 798.11L328.07 798.03L329.01 797.95L329.94 797.86L330.87 797.78L331.81 797.69L332.74 797.59L333.67 797.50L334.60 797.40L335.54 797.29L336.47 797.19L337.40 797.08L338.34 796.97L339.27 796.85L340.20 796.73L341.13 796.61L342.07 796.48L343.00 796.36" fill="none" stroke="#1a2ee0" stroke-width="1.1" stroke-linejoin="round"/>
<path d="M64.06 727.00L64.99 726.96L65.93 726.98L66.86 727.05L67.79 727.18L68.73 727.35L69.66 727.57L70.59 727.85L71.52 728.16L72.46 728.49L73.39 728.79L74.32 729.15L75.26 729.54L76.19 729.98L77.12 730.45L78.05 730.97L78.99 731.52L79.92 732.11L80.85 732.74L81.79 733.40L82.72 734.09L83.65 734.81L84.58 735.57L85.52 736.36L86.45 737.17L87.38 738.01L88.32 738.88L89.25 739.78L90.18 740.69L91.12 741.63L92.05 742.60L92.98 743.58L93.91 744.58L94.85 745.60L95.78 746.64L96.71 747.69L97.65 748.75L98.58 749.83L99.51 750.93L100.44 752.03L101.38 753.14L102.31 754.26L103.24 755.39L104.18 756.52L105.11 757.66L106.04 758.80L106.97 759.94L107.91 761.08L108.84 762.22L109.77 763.36L110.71 764.49L111.64 765.62L112.57 766.74L113.51 767.84L114.44 768.94L115.37 770.03L116.30 771.11L117.24 772.17L118.17 773.21L119.10 774.24L120.04 775.26L120.97 776.26L121.90 777.24L122.83 778.20L123.77 779.14L124.70 780.06L125.63 780.96L126.57 781.84L127.50 782.69L128.43 783.53L129.36 784.34L130.30 785.12L131.23 785.88L132.16 786.61L133.10 787.32L134.03 788.01L134.96 788.67L135.89 789.32L136.83 789.93L137.76 790.53L138.69 791.10L139.63 791.66L140.56 792.19L141.49 792.70L142.43 793.19L143.36 793.66L144.29 794.11L145.22 794.54L146.16 794.95L147.09 795.35L148.02 795.72L148.96 796.08L149.89 796.42L150.82 796.74L151.75 797.05L152.69 797.34L153.62 797.62L154.55 797.87L155.49 798.12L156.42 798.35L157.35 798.56L158.28 798.76L159.22 798.95L160.15 799.12L161.08 799.28L162.02 799.43L162.95 799.57L163.88 799.69L164.81 799.80L165.75 799.90L166.68 799.99L167.61 800.07L168.55 800.14L169.48 800.20L170.41 800.25L171.35 800.29L172.28 800.33L173.21 800.35L174.14 800.37L175.08 800.38L176.01 800.38L176.94 800.38L177.88 800.36L178.81 800.35L179.74 800.33L180.67 800.30L181.61 800.27L182.54 800.23L183.47 800.19L184.41 800.14L185.34 800.09L186.27 800.04L187.20 799.99L188.14 799.93L189.07 799.87L190.00 799.81L190.94 799.75L191.87 799.69L192.80 799.63L193.73 799.57L194.67 799.50L195.60 799.44L196.53 799.38L197.47 799.32L198.40 799.26L199.33 799.21L200.27 799.16L201.20 799.11L202.13 799.06L203.06 799.01L204.00 798.97L204.93 798.93L205.86 798.89L206.80 798.86L207.73 798.83L208.66 798.80L209.59 798.77L210.53 798.74L211.46 798.72L212.39 798.70L213.33 798.68L214.26 798.67L215.19 798.65L216.12 798.64L217.06 798.63L217.99 798.62L218.92 798.61L219.86 798.61L220.79 798.60L221.72 798.60L222.66 798.60L223.59 798.61L224.52 798.61L225.45 798.62L226.39 798.62L227.32 798.63L228.25 798.64L229.19 798.65L230.12 798.66L231.05 798.68L231.98 798.69L232.92 798.71L233.85 798.73L234.78 798.75L235.72 798.77L236.65 798.79L237.58 798.81L238.51 798.83L239.45 798.85L240.38 798.88L241.31 798.90L242.25 798.93L243.18 798.96L244.11 798.98L245.04 799.01L245.98 799.04L246.91 799.07L247.84 799.10L248.78 799.13L249.71 799.16L250.64 799.19L251.58 799.23L252.51 799.26L253.44 799.29L254.37 799.32L255.31 799.35L256.24 799.39L257.17 799.42L258.11 799.45L259.04 799.49L259.97 799.52L260.90 799.55L261.84 799.58L262.77 799.62L263.70 799.65L264.64 799.68L265.57 799.71L266.50 799.74L267.43 799.77L268.37 799.80L269.30 799.83L270.23 799.86L271.17 799.89L272.10 799.92L273.03 799.94L273.96 799.97L274.90 800.00L275.83 800.02L276.76 800.05L277.70 800.07L278.63 800.09L279.56 800.11L280.50 800.13L281.43 800.15L282.36 800.17L283.29 800.19L284.23 800.20L285.16 800.22L286.09 800.23L287.03 800.24L287.96 800.25L288.89 800.26L289.82 800.27L290.76 800.27L291.69 800.28L292.62 800.28L293.56 800.28L294.49 800.28L295.42 800.28L296.35 800.27L297.29 800.27L298.22 800.26L299.15 800.25L300.09 800.24L301.02 800.23L301.95 800.21L302.89 800.19L303.82 800.17L304.75 800.15L305.68 800.12L306.62 800.10L307.55 800.07L308.48 800.04L309.42 800.00L310.35 799.97L311.28 799.93L312.21 799.89L313.15 799.84L314.08 799.80L315.01 799.75L315.95 799.70L316.88 799.64L317.81 799.58L318.74 799.52L319.68 799.46L320.61 799.39L321.54 799.33L322.48 799.25L323.41 799.18L324.34 799.10L325.27 799.02L326.21 798.93L327.14 798.85L328.07 798.75L329.01 798.66L329.94 798.56L330.87 798.46L331.81 798.36L332.74 798.25L333.67 798.14L334.60 798.02L335.54 797.90L336.47 797.78L337.40 797.65L338.34 797.52L339.27 797.39L340.20 797.25L341.13 797.11L342.07 796.96L343.00 796.81" fill="none" stroke="#22b022" stroke-width="1.1" stroke-linejoin="round"/>
</g>
<rect x="208.60" y="25.40" width="115.60" height="73.20" fill="#e2e2e2"/>
<rect x="207.60" y="24.40" width="115.60" height="73.20" fill="#fff" stroke="#b4b4b4" stroke-width="0.9"/>
<rect x="221.23" y="31.03" width="4.94" height="4.94" fill="#3b3b3b"/>
<text x="241.60" y="37.86" font-family="'Liberation Serif','Times New Roman',serif" font-size="13.2" fill="#1a1a1a" stroke="#1a1a1a" stroke-width="0.16">Ti/IrTa</text>
<circle cx="223.70" cy="49.20" r="2.89" fill="#ee3a3a"/>
<text x="241.60" y="53.56" font-family="'Liberation Serif','Times New Roman',serif" font-size="13.2" fill="#1a1a1a" stroke="#1a1a1a" stroke-width="0.16">Ti/TaO<tspan font-size="10.0" dy="3.4">x</tspan><tspan dy="-3.4">#1/IrTa</tspan></text>
<path d="M223.70 64.47L227.06 70.13L220.34 70.13Z" fill="#1f62e8"/>
<text x="241.60" y="71.66" font-family="'Liberation Serif','Times New Roman',serif" font-size="13.2" fill="#1a1a1a" stroke="#1a1a1a" stroke-width="0.16">Ti/TaO<tspan font-size="10.0" dy="3.4">x</tspan><tspan dy="-3.4">#3/IrTa</tspan></text>
<path d="M220.34 84.37L227.06 84.37L223.70 90.03Z" fill="#229e55"/>
<text x="241.60" y="91.56" font-family="'Liberation Serif','Times New Roman',serif" font-size="13.2" fill="#1a1a1a" stroke="#1a1a1a" stroke-width="0.16">Ti/TaO<tspan font-size="10.0" dy="3.4">x</tspan><tspan dy="-3.4">#5/IrTa</tspan></text>
<rect x="223.40" y="308.60" width="113.60" height="72.40" fill="#e2e2e2"/>
<rect x="222.40" y="307.60" width="113.60" height="72.40" fill="#fff" stroke="#b4b4b4" stroke-width="0.9"/>
<rect x="235.93" y="313.93" width="4.94" height="4.94" fill="#3b3b3b"/>
<text x="256.00" y="320.62" font-family="'Liberation Serif','Times New Roman',serif" font-size="12.8" fill="#1a1a1a" stroke="#1a1a1a" stroke-width="0.16">Ti/IrTa</text>
<circle cx="238.40" cy="332.00" r="2.89" fill="#ee3a3a"/>
<text x="256.00" y="336.22" font-family="'Liberation Serif','Times New Roman',serif" font-size="12.8" fill="#1a1a1a" stroke="#1a1a1a" stroke-width="0.16">Ti/TaO<tspan font-size="9.7" dy="3.3">x</tspan><tspan dy="-3.3">#1/IrTa</tspan></text>
<path d="M238.40 346.37L241.76 352.03L235.04 352.03Z" fill="#1f62e8"/>
<text x="256.00" y="353.42" font-family="'Liberation Serif','Times New Roman',serif" font-size="12.8" fill="#1a1a1a" stroke="#1a1a1a" stroke-width="0.16">Ti/TaO<tspan font-size="9.7" dy="3.3">x</tspan><tspan dy="-3.3">#3/IrTa</tspan></text>
<path d="M235.04 366.17L241.76 366.17L238.40 371.83Z" fill="#229e55"/>
<text x="256.00" y="373.22" font-family="'Liberation Serif','Times New Roman',serif" font-size="12.8" fill="#1a1a1a" stroke="#1a1a1a" stroke-width="0.16">Ti/TaO<tspan font-size="9.7" dy="3.3">x</tspan><tspan dy="-3.3">#5/IrTa</tspan></text>
<rect x="223.40" y="602.40" width="103.20" height="65.60" fill="#e2e2e2"/>
<rect x="222.40" y="601.40" width="103.20" height="65.60" fill="#fff" stroke="#b4b4b4" stroke-width="0.9"/>
<rect x="234.53" y="606.93" width="4.94" height="4.94" fill="#3b3b3b"/>
<text x="253.00" y="613.26" font-family="'Liberation Serif','Times New Roman',serif" font-size="11.7" fill="#1a1a1a" stroke="#1a1a1a" stroke-width="0.16">Ti/IrTa</text>
<circle cx="237.00" cy="624.00" r="2.89" fill="#ee3a3a"/>
<text x="253.00" y="627.86" font-family="'Liberation Serif','Times New Roman',serif" font-size="11.7" fill="#1a1a1a" stroke="#1a1a1a" stroke-width="0.16">Ti/TaO<tspan font-size="8.9" dy="3.0">x</tspan><tspan dy="-3.0">#1/IrTa</tspan></text>
<path d="M237.00 637.16L240.36 642.84L233.64 642.84Z" fill="#1f62e8"/>
<text x="253.00" y="643.86" font-family="'Liberation Serif','Times New Roman',serif" font-size="11.7" fill="#1a1a1a" stroke="#1a1a1a" stroke-width="0.16">Ti/TaO<tspan font-size="8.9" dy="3.0">x</tspan><tspan dy="-3.0">#3/IrTa</tspan></text>
<path d="M233.64 654.56L240.36 654.56L237.00 660.24Z" fill="#229e55"/>
<text x="253.00" y="661.26" font-family="'Liberation Serif','Times New Roman',serif" font-size="11.7" fill="#1a1a1a" stroke="#1a1a1a" stroke-width="0.16">Ti/TaO<tspan font-size="8.9" dy="3.0">x</tspan><tspan dy="-3.0">#5/IrTa</tspan></text>
<text x="44.6" y="30.2" font-family="'Liberation Serif','Times New Roman',serif" font-weight="bold" font-size="18.5" fill="#111">(a)</text>
<text x="50.3" y="325.2" font-family="'Liberation Serif','Times New Roman',serif" font-weight="bold" font-size="18.3" fill="#111">(b)</text>
<text x="49.8" y="615.4" font-family="'Liberation Serif','Times New Roman',serif" font-weight="bold" font-size="18.3" fill="#111">(c)</text>
<text x="188.9" y="278.3" text-anchor="middle" font-family="'Liberation Serif','Times New Roman',serif" font-size="11.8" fill="#1a1a1a" stroke="#1a1a1a" stroke-width="0.16">Zre (&#937;&#183;cm<tspan font-size="8" dy="-4.5">2</tspan><tspan dy="4.5">)</tspan></text>
<text transform="translate(12.2,124) rotate(-90)" text-anchor="middle" font-family="'Liberation Serif','Times New Roman',serif" font-size="11.6" fill="#1a1a1a" stroke="#1a1a1a" stroke-width="0.16">-Zim (&#937;&#183;cm<tspan font-size="7.6" dy="-4.3">2</tspan><tspan dy="4.3">)</tspan></text>
<text transform="translate(13.9,417) rotate(-90)" text-anchor="middle" font-family="'Liberation Serif','Times New Roman',serif" font-size="11.4" fill="#1a1a1a" stroke="#1a1a1a" stroke-width="0.16">-Phase angle (deg)</text>
<text x="192" y="565.2" text-anchor="middle" font-family="'Liberation Serif','Times New Roman',serif" font-size="11.5" fill="#1a1a1a" stroke="#1a1a1a" stroke-width="0.16">log f (Hz)</text>
<text transform="translate(20.2,709) rotate(-90)" text-anchor="middle" font-family="'Liberation Serif','Times New Roman',serif" font-size="11.5" fill="#1a1a1a" stroke="#1a1a1a" stroke-width="0.16">|Z| (&#937;&#183;cm<tspan font-size="7.4" dy="-4.2">2</tspan><tspan dy="4.2">)</tspan></text>
<text x="192" y="855" text-anchor="middle" font-family="'Liberation Serif','Times New Roman',serif" font-size="11.5" fill="#1a1a1a" stroke="#1a1a1a" stroke-width="0.16">log f (Hz)</text>
<g fill="none" stroke="#111" stroke-width="2.4" stroke-linejoin="miter">
<path d="M63 485.6H75"/>
<ellipse cx="85.5" cy="485.3" rx="10.0" ry="11.5"/>
<path d="M82.6 479.5V491.2H89.6" stroke-width="2.2"/>
<path d="M95.5 485.6H102.5L105.5 477.5L109.5 493L113.5 477.5L117.5 493L121.5 477.5L124.5 485.6H135.2"/>
<path d="M135.2 471V496.2H149.5L151.5 488L155.5 505L159.5 488L163.5 505L167.5 488L169.5 496.2H181.3V471H170"/>
<path d="M135.2 471H148.6"/>
<rect x="148.6" y="460.4" width="21.2" height="21.6"/>
<path d="M181.3 484.6H190"/>
</g>
<text x="159.4" y="475.8" text-anchor="middle" font-family="'Liberation Sans','DejaVu Sans',sans-serif" font-weight="bold" font-size="15" fill="#111">Q</text>
<text x="150.6" y="455.8" font-family="'Liberation Sans','DejaVu Sans',sans-serif" font-size="11.2" fill="#111">Q<tspan font-size="9.2" dx="0.3">dl</tspan></text>
<text x="108.3" y="507.2" font-family="'Liberation Sans','DejaVu Sans',sans-serif" font-size="10.8" fill="#111">Rs</text>
<text x="151.6" y="517.0" font-family="'Liberation Sans','DejaVu Sans',sans-serif" font-size="11.2" fill="#111">Rct</text>
</svg>
</body></html>
